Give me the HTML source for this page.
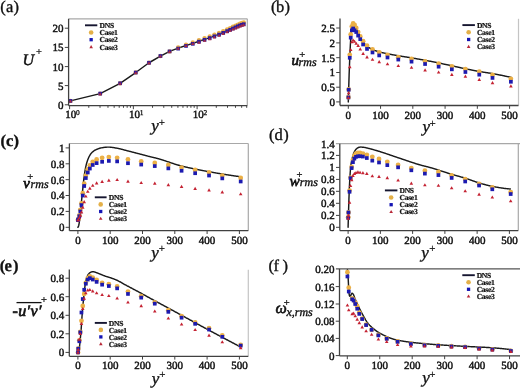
<!DOCTYPE html>
<html><head><meta charset="utf-8"><style>html,body{margin:0;padding:0;background:#fff;}svg{display:block;}</style></head><body>
<svg text-rendering="geometricPrecision" width="520" height="388" viewBox="0 0 520 388" font-family="&apos;Liberation Serif&apos;,&apos;Times New Roman&apos;,serif">
<rect width="520" height="388" fill="#fff"/>
<line x1="68.60" y1="18.80" x2="247.30" y2="18.80" stroke="#a8a8a8" stroke-width="1.2"/>
<line x1="247.30" y1="18.80" x2="247.30" y2="105.60" stroke="#a8a8a8" stroke-width="1.2"/>
<line x1="69.60" y1="105.60" x2="69.60" y2="109.20" stroke="#404040" stroke-width="1.0"/>
<line x1="88.79" y1="105.60" x2="88.79" y2="107.80" stroke="#404040" stroke-width="1.0"/>
<line x1="100.02" y1="105.60" x2="100.02" y2="107.80" stroke="#404040" stroke-width="1.0"/>
<line x1="107.98" y1="105.60" x2="107.98" y2="107.80" stroke="#404040" stroke-width="1.0"/>
<line x1="114.16" y1="105.60" x2="114.16" y2="107.80" stroke="#404040" stroke-width="1.0"/>
<line x1="119.21" y1="105.60" x2="119.21" y2="107.80" stroke="#404040" stroke-width="1.0"/>
<line x1="123.48" y1="105.60" x2="123.48" y2="107.80" stroke="#404040" stroke-width="1.0"/>
<line x1="127.17" y1="105.60" x2="127.17" y2="107.80" stroke="#404040" stroke-width="1.0"/>
<line x1="130.43" y1="105.60" x2="130.43" y2="107.80" stroke="#404040" stroke-width="1.0"/>
<line x1="133.35" y1="105.60" x2="133.35" y2="109.20" stroke="#404040" stroke-width="1.0"/>
<line x1="152.54" y1="105.60" x2="152.54" y2="107.80" stroke="#404040" stroke-width="1.0"/>
<line x1="163.77" y1="105.60" x2="163.77" y2="107.80" stroke="#404040" stroke-width="1.0"/>
<line x1="171.73" y1="105.60" x2="171.73" y2="107.80" stroke="#404040" stroke-width="1.0"/>
<line x1="177.91" y1="105.60" x2="177.91" y2="107.80" stroke="#404040" stroke-width="1.0"/>
<line x1="182.96" y1="105.60" x2="182.96" y2="107.80" stroke="#404040" stroke-width="1.0"/>
<line x1="187.23" y1="105.60" x2="187.23" y2="107.80" stroke="#404040" stroke-width="1.0"/>
<line x1="190.92" y1="105.60" x2="190.92" y2="107.80" stroke="#404040" stroke-width="1.0"/>
<line x1="194.18" y1="105.60" x2="194.18" y2="107.80" stroke="#404040" stroke-width="1.0"/>
<line x1="197.10" y1="105.60" x2="197.10" y2="109.20" stroke="#404040" stroke-width="1.0"/>
<line x1="216.29" y1="105.60" x2="216.29" y2="107.80" stroke="#404040" stroke-width="1.0"/>
<line x1="227.52" y1="105.60" x2="227.52" y2="107.80" stroke="#404040" stroke-width="1.0"/>
<line x1="235.48" y1="105.60" x2="235.48" y2="107.80" stroke="#404040" stroke-width="1.0"/>
<line x1="241.66" y1="105.60" x2="241.66" y2="107.80" stroke="#404040" stroke-width="1.0"/>
<line x1="246.71" y1="105.60" x2="246.71" y2="107.80" stroke="#404040" stroke-width="1.0"/>
<text x="70.80" y="118.40" font-size="11" text-anchor="middle" fill="#111" stroke="#111" stroke-width="0.45">10</text>
<text x="76.10" y="115.00" font-size="7.4" fill="#111" stroke="#111" stroke-width="0.3">0</text>
<text x="134.55" y="118.40" font-size="11" text-anchor="middle" fill="#111" stroke="#111" stroke-width="0.45">10</text>
<text x="139.85" y="115.00" font-size="7.4" fill="#111" stroke="#111" stroke-width="0.3">1</text>
<text x="198.30" y="118.40" font-size="11" text-anchor="middle" fill="#111" stroke="#111" stroke-width="0.45">10</text>
<text x="203.60" y="115.00" font-size="7.4" fill="#111" stroke="#111" stroke-width="0.3">2</text>
<line x1="64.80" y1="104.80" x2="68.60" y2="104.80" stroke="#404040" stroke-width="1.0"/>
<text x="63.60" y="108.70" font-size="11" text-anchor="end" fill="#111" stroke="#111" stroke-width="0.45">0</text>
<line x1="64.80" y1="85.60" x2="68.60" y2="85.60" stroke="#404040" stroke-width="1.0"/>
<text x="63.60" y="89.50" font-size="11" text-anchor="end" fill="#111" stroke="#111" stroke-width="0.45">5</text>
<line x1="64.80" y1="66.60" x2="68.60" y2="66.60" stroke="#404040" stroke-width="1.0"/>
<text x="63.60" y="70.50" font-size="11" text-anchor="end" fill="#111" stroke="#111" stroke-width="0.45">10</text>
<line x1="64.80" y1="47.40" x2="68.60" y2="47.40" stroke="#404040" stroke-width="1.0"/>
<text x="63.60" y="51.30" font-size="11" text-anchor="end" fill="#111" stroke="#111" stroke-width="0.45">15</text>
<line x1="64.80" y1="28.20" x2="68.60" y2="28.20" stroke="#404040" stroke-width="1.0"/>
<text x="63.60" y="32.10" font-size="11" text-anchor="end" fill="#111" stroke="#111" stroke-width="0.45">20</text>
<polyline points="70.42,100.91 100.20,93.59 120.11,83.28 135.74,72.54 149.00,62.75 160.44,56.03 169.57,51.42 178.18,48.16 186.01,45.47 192.80,43.36 198.97,41.25 204.58,39.33 209.76,37.60 214.43,35.87 219.06,34.14 223.23,32.42 227.14,30.69 230.98,28.94 234.78,27.19 238.12,25.72 241.10,24.54 243.79,23.76" fill="none" stroke="#1a1a1a" stroke-width="1.45" stroke-linejoin="round" stroke-linecap="round"/>
<circle cx="70.42" cy="100.91" r="2.2" fill="#EBB046"/>
<circle cx="100.20" cy="93.59" r="2.2" fill="#EBB046"/>
<circle cx="120.11" cy="83.28" r="2.2" fill="#EBB046"/>
<circle cx="135.74" cy="72.54" r="2.2" fill="#EBB046"/>
<circle cx="149.00" cy="62.75" r="2.2" fill="#EBB046"/>
<circle cx="160.44" cy="56.03" r="2.2" fill="#EBB046"/>
<circle cx="169.57" cy="51.42" r="2.2" fill="#EBB046"/>
<circle cx="178.18" cy="47.50" r="2.2" fill="#EBB046"/>
<circle cx="186.01" cy="44.69" r="2.2" fill="#EBB046"/>
<circle cx="192.80" cy="42.43" r="2.2" fill="#EBB046"/>
<circle cx="198.97" cy="40.16" r="2.2" fill="#EBB046"/>
<circle cx="204.58" cy="38.10" r="2.2" fill="#EBB046"/>
<circle cx="209.76" cy="36.37" r="2.2" fill="#EBB046"/>
<circle cx="214.43" cy="34.64" r="2.2" fill="#EBB046"/>
<circle cx="219.06" cy="32.92" r="2.2" fill="#EBB046"/>
<circle cx="223.23" cy="31.19" r="2.2" fill="#EBB046"/>
<circle cx="227.14" cy="29.46" r="2.2" fill="#EBB046"/>
<circle cx="230.16" cy="28.09" r="2.2" fill="#EBB046"/>
<circle cx="232.95" cy="26.81" r="2.2" fill="#EBB046"/>
<circle cx="235.48" cy="25.64" r="2.2" fill="#EBB046"/>
<circle cx="237.80" cy="24.62" r="2.2" fill="#EBB046"/>
<circle cx="239.95" cy="23.73" r="2.2" fill="#EBB046"/>
<circle cx="241.93" cy="23.05" r="2.2" fill="#EBB046"/>
<circle cx="243.79" cy="22.53" r="2.2" fill="#EBB046"/>
<rect x="68.57" y="99.06" width="3.7" height="3.7" fill="#2a1a9e"/>
<rect x="98.35" y="91.74" width="3.7" height="3.7" fill="#2a1a9e"/>
<rect x="118.26" y="81.43" width="3.7" height="3.7" fill="#2a1a9e"/>
<rect x="133.89" y="70.69" width="3.7" height="3.7" fill="#2a1a9e"/>
<rect x="147.15" y="60.90" width="3.7" height="3.7" fill="#2a1a9e"/>
<rect x="158.59" y="54.18" width="3.7" height="3.7" fill="#2a1a9e"/>
<rect x="167.72" y="49.57" width="3.7" height="3.7" fill="#2a1a9e"/>
<rect x="176.33" y="46.77" width="3.7" height="3.7" fill="#2a1a9e"/>
<rect x="184.16" y="44.08" width="3.7" height="3.7" fill="#2a1a9e"/>
<rect x="190.95" y="41.97" width="3.7" height="3.7" fill="#2a1a9e"/>
<rect x="197.12" y="39.86" width="3.7" height="3.7" fill="#2a1a9e"/>
<rect x="202.73" y="37.94" width="3.7" height="3.7" fill="#2a1a9e"/>
<rect x="207.91" y="36.21" width="3.7" height="3.7" fill="#2a1a9e"/>
<rect x="212.58" y="34.48" width="3.7" height="3.7" fill="#2a1a9e"/>
<rect x="217.21" y="32.75" width="3.7" height="3.7" fill="#2a1a9e"/>
<rect x="221.38" y="31.03" width="3.7" height="3.7" fill="#2a1a9e"/>
<rect x="225.29" y="29.30" width="3.7" height="3.7" fill="#2a1a9e"/>
<rect x="228.31" y="27.93" width="3.7" height="3.7" fill="#2a1a9e"/>
<rect x="231.10" y="26.65" width="3.7" height="3.7" fill="#2a1a9e"/>
<rect x="233.63" y="25.48" width="3.7" height="3.7" fill="#2a1a9e"/>
<rect x="235.95" y="24.46" width="3.7" height="3.7" fill="#2a1a9e"/>
<rect x="238.10" y="23.57" width="3.7" height="3.7" fill="#2a1a9e"/>
<rect x="240.08" y="22.89" width="3.7" height="3.7" fill="#2a1a9e"/>
<rect x="241.94" y="22.37" width="3.7" height="3.7" fill="#2a1a9e"/>
<polygon points="70.42,99.52 72.12,102.48 68.72,102.48" fill="#a82a40"/>
<polygon points="100.20,92.20 101.90,95.16 98.50,95.16" fill="#a82a40"/>
<polygon points="120.11,81.89 121.81,84.85 118.41,84.85" fill="#a82a40"/>
<polygon points="135.74,71.15 137.44,74.11 134.04,74.11" fill="#a82a40"/>
<polygon points="149.00,61.36 150.70,64.32 147.30,64.32" fill="#a82a40"/>
<polygon points="160.44,54.64 162.14,57.60 158.74,57.60" fill="#a82a40"/>
<polygon points="169.57,50.03 171.27,52.99 167.87,52.99" fill="#a82a40"/>
<polygon points="178.18,46.77 179.88,49.73 176.48,49.73" fill="#a82a40"/>
<polygon points="186.01,44.08 187.71,47.04 184.31,47.04" fill="#a82a40"/>
<polygon points="192.80,41.97 194.50,44.93 191.10,44.93" fill="#a82a40"/>
<polygon points="198.97,40.82 200.67,43.78 197.27,43.78" fill="#a82a40"/>
<polygon points="204.58,38.90 206.28,41.86 202.88,41.86" fill="#a82a40"/>
<polygon points="209.76,37.17 211.46,40.13 208.06,40.13" fill="#a82a40"/>
<polygon points="214.43,35.44 216.13,38.40 212.73,38.40" fill="#a82a40"/>
<polygon points="219.06,33.71 220.76,36.67 217.36,36.67" fill="#a82a40"/>
<polygon points="223.23,31.99 224.93,34.94 221.53,34.94" fill="#a82a40"/>
<polygon points="227.14,30.26 228.84,33.22 225.44,33.22" fill="#a82a40"/>
<polygon points="230.16,28.89 231.86,31.85 228.46,31.85" fill="#a82a40"/>
<polygon points="232.95,27.61 234.65,30.57 231.25,30.57" fill="#a82a40"/>
<polygon points="235.48,26.44 237.18,29.40 233.78,29.40" fill="#a82a40"/>
<polygon points="237.80,25.42 239.50,28.38 236.10,28.38" fill="#a82a40"/>
<polygon points="239.95,24.53 241.65,27.48 238.25,27.48" fill="#a82a40"/>
<polygon points="241.93,23.85 243.63,26.81 240.23,26.81" fill="#a82a40"/>
<polygon points="243.79,23.33 245.49,26.29 242.09,26.29" fill="#a82a40"/>
<line x1="68.60" y1="18.80" x2="68.60" y2="105.60" stroke="#404040" stroke-width="1.3"/>
<line x1="68.60" y1="105.60" x2="247.30" y2="105.60" stroke="#404040" stroke-width="1.3"/>
<line x1="85.00" y1="25.30" x2="97.30" y2="25.30" stroke="#161630" stroke-width="1.9"/>
<circle cx="91.15" cy="32.50" r="2.3" fill="#E4B048"/>
<rect x="89.50" y="38.05" width="3.3" height="3.3" fill="#1414B4"/>
<polygon points="91.15,45.02 92.95,48.15 89.35,48.15" fill="#B82838"/>
<text x="99.60" y="27.90" font-size="7.6" font-weight="bold" letter-spacing="-0.3" fill="#111" stroke="#111" stroke-width="0.2">DNS</text>
<text x="99.60" y="35.10" font-size="7.6" font-weight="bold" letter-spacing="-0.3" fill="#111" stroke="#111" stroke-width="0.2">Case1</text>
<text x="99.60" y="42.30" font-size="7.6" font-weight="bold" letter-spacing="-0.3" fill="#111" stroke="#111" stroke-width="0.2">Case2</text>
<text x="99.60" y="49.50" font-size="7.6" font-weight="bold" letter-spacing="-0.3" fill="#111" stroke="#111" stroke-width="0.2">Case3</text>
<text x="0.30" y="12.00" font-size="16.5" fill="#111" stroke="#111" stroke-width="0.35">(</text>
<text x="5.90" y="12.00" font-size="16.5" fill="#111" stroke="#111" stroke-width="0.35">a</text>
<text x="13.60" y="12.00" font-size="16.5" fill="#111" stroke="#111" stroke-width="0.35">)</text>
<text x="22.40" y="65.20" font-size="16" font-style="italic" fill="#111" stroke="#111" stroke-width="0.45">U</text>
<text x="35.90" y="54.60" font-size="10.5" fill="#111" stroke="#111" stroke-width="0.25">+</text>
<text x="151.30" y="131.30" font-size="17" font-style="italic" fill="#111" stroke="#111" stroke-width="0.35">y</text>
<text x="158.65" y="126.20" font-size="11" fill="#111" stroke="#111" stroke-width="0.25">+</text>
<line x1="518.50" y1="18.80" x2="518.50" y2="105.50" stroke="#c4c4c4" stroke-width="1.2"/>
<line x1="348.30" y1="105.50" x2="348.30" y2="108.80" stroke="#404040" stroke-width="1.0"/>
<text x="348.30" y="118.90" font-size="11" text-anchor="middle" fill="#111" stroke="#111" stroke-width="0.45">0</text>
<line x1="380.56" y1="105.50" x2="380.56" y2="108.80" stroke="#404040" stroke-width="1.0"/>
<text x="380.56" y="118.90" font-size="11" text-anchor="middle" fill="#111" stroke="#111" stroke-width="0.45">100</text>
<line x1="412.82" y1="105.50" x2="412.82" y2="108.80" stroke="#404040" stroke-width="1.0"/>
<text x="412.82" y="118.90" font-size="11" text-anchor="middle" fill="#111" stroke="#111" stroke-width="0.45">200</text>
<line x1="445.08" y1="105.50" x2="445.08" y2="108.80" stroke="#404040" stroke-width="1.0"/>
<text x="445.08" y="118.90" font-size="11" text-anchor="middle" fill="#111" stroke="#111" stroke-width="0.45">300</text>
<line x1="477.34" y1="105.50" x2="477.34" y2="108.80" stroke="#404040" stroke-width="1.0"/>
<text x="477.34" y="118.90" font-size="11" text-anchor="middle" fill="#111" stroke="#111" stroke-width="0.45">400</text>
<line x1="509.60" y1="105.50" x2="509.60" y2="108.80" stroke="#404040" stroke-width="1.0"/>
<text x="509.60" y="118.90" font-size="11" text-anchor="middle" fill="#111" stroke="#111" stroke-width="0.45">500</text>
<line x1="336.20" y1="101.90" x2="340.00" y2="101.90" stroke="#404040" stroke-width="1.0"/>
<text x="335.00" y="105.80" font-size="11" text-anchor="end" fill="#111" stroke="#111" stroke-width="0.45">0</text>
<line x1="336.20" y1="87.20" x2="340.00" y2="87.20" stroke="#404040" stroke-width="1.0"/>
<text x="335.00" y="91.10" font-size="11" text-anchor="end" fill="#111" stroke="#111" stroke-width="0.45">0.5</text>
<line x1="336.20" y1="72.50" x2="340.00" y2="72.50" stroke="#404040" stroke-width="1.0"/>
<text x="335.00" y="76.40" font-size="11" text-anchor="end" fill="#111" stroke="#111" stroke-width="0.45">1</text>
<line x1="336.20" y1="57.70" x2="340.00" y2="57.70" stroke="#404040" stroke-width="1.0"/>
<text x="335.00" y="61.60" font-size="11" text-anchor="end" fill="#111" stroke="#111" stroke-width="0.45">1.5</text>
<line x1="336.20" y1="42.90" x2="340.00" y2="42.90" stroke="#404040" stroke-width="1.0"/>
<text x="335.00" y="46.80" font-size="11" text-anchor="end" fill="#111" stroke="#111" stroke-width="0.45">2</text>
<line x1="336.20" y1="28.00" x2="340.00" y2="28.00" stroke="#404040" stroke-width="1.0"/>
<text x="335.00" y="31.90" font-size="11" text-anchor="end" fill="#111" stroke="#111" stroke-width="0.45">2.5</text>
<polyline points="348.30,101.90 348.71,88.17 349.11,75.31 349.52,64.23 349.93,54.15 350.34,45.19 350.74,38.39 351.15,33.03 351.56,29.12 351.97,26.46 352.37,24.74 352.78,23.37 353.19,22.87 353.60,23.14 354.00,23.63 354.41,24.20 354.82,24.95 355.23,25.78 355.63,26.61 356.04,27.47 356.45,28.38 356.86,29.32 357.26,30.30 357.67,31.37 358.08,32.45 358.49,33.49 358.89,34.45 359.30,35.38 359.71,36.27 360.12,37.11 360.52,37.90 360.93,38.65 361.34,39.37 361.75,40.06 362.15,40.72 362.56,41.33 362.97,41.89 363.38,42.40 363.78,42.88 364.19,43.34 364.60,43.77 365.01,44.18 365.41,44.58 365.82,44.95 366.23,45.31 366.64,45.65 367.04,45.98 367.45,46.30 367.86,46.62 368.27,46.92 368.67,47.22 369.08,47.51 369.49,47.79 369.90,48.06 370.30,48.32 370.71,48.56 371.12,48.80 371.53,49.03 371.93,49.24 372.34,49.44 372.75,49.62 373.16,49.80 373.56,49.97 373.97,50.14 374.38,50.30 374.79,50.46 375.19,50.60 375.60,50.75 376.01,50.89 376.42,51.02 376.82,51.15 377.23,51.28 377.64,51.41 378.05,51.53 378.45,51.65 378.86,51.76 379.27,51.88 379.68,51.99 380.08,52.10 380.49,52.20 380.90,52.31 381.31,52.41 381.71,52.51 382.12,52.60 382.53,52.70 382.94,52.79 383.34,52.88 383.75,52.97 384.16,53.06 384.57,53.14 384.97,53.23 385.38,53.32 385.79,53.40 386.20,53.48 386.60,53.57 387.01,53.65 387.42,53.74 387.83,53.82 388.23,53.90 388.64,53.98 389.05,54.06 389.46,54.14 389.86,54.22 390.27,54.29 390.68,54.37 391.09,54.45 391.49,54.52 391.90,54.60 392.31,54.67 392.72,54.74 393.12,54.82 393.53,54.89 393.94,54.96 394.35,55.03 394.75,55.11 395.16,55.18 395.57,55.25 395.98,55.32 396.38,55.39 396.79,55.46 397.20,55.53 397.61,55.60 398.01,55.67 398.42,55.74 398.83,55.81 399.24,55.88 399.64,55.95 400.05,56.02 400.46,56.09 400.87,56.16 401.27,56.22 401.68,56.29 402.09,56.36 402.50,56.42 402.90,56.49 403.31,56.55 403.72,56.62 404.13,56.68 404.53,56.75 404.94,56.81 405.35,56.88 405.76,56.94 406.16,57.01 406.57,57.07 406.98,57.14 407.39,57.20 407.79,57.27 408.20,57.33 408.61,57.40 409.02,57.46 409.42,57.53 409.83,57.59 410.24,57.66 410.65,57.73 411.05,57.79 411.46,57.86 411.87,57.93 412.28,58.00 412.68,58.07 413.09,58.14 413.50,58.21 413.91,58.28 414.31,58.35 414.72,58.42 415.13,58.49 415.54,58.56 415.94,58.63 416.35,58.71 416.76,58.78 417.17,58.85 417.57,58.92 417.98,58.99 418.39,59.07 418.80,59.14 419.20,59.21 419.61,59.28 420.02,59.36 420.43,59.43 420.83,59.50 421.24,59.58 421.65,59.65 422.06,59.73 422.46,59.80 422.87,59.87 423.28,59.95 423.69,60.02 424.09,60.10 424.50,60.18 424.91,60.25 425.32,60.33 425.72,60.40 426.13,60.48 426.54,60.56 426.95,60.63 427.35,60.71 427.76,60.79 428.17,60.86 428.58,60.94 428.98,61.02 429.39,61.10 429.80,61.18 430.21,61.26 430.61,61.33 431.02,61.41 431.43,61.49 431.84,61.57 432.24,61.65 432.65,61.74 433.06,61.82 433.47,61.90 433.87,61.98 434.28,62.06 434.69,62.14 435.10,62.23 435.50,62.31 435.91,62.39 436.32,62.48 436.73,62.56 437.13,62.64 437.54,62.73 437.95,62.81 438.36,62.90 438.76,62.98 439.17,63.07 439.58,63.15 439.99,63.24 440.39,63.32 440.80,63.41 441.21,63.49 441.62,63.58 442.02,63.66 442.43,63.75 442.84,63.84 443.25,63.92 443.65,64.01 444.06,64.09 444.47,64.18 444.88,64.26 445.28,64.35 445.69,64.44 446.10,64.52 446.51,64.61 446.91,64.70 447.32,64.79 447.73,64.88 448.14,64.96 448.54,65.05 448.95,65.14 449.36,65.23 449.77,65.32 450.17,65.41 450.58,65.50 450.99,65.59 451.40,65.68 451.80,65.77 452.21,65.86 452.62,65.95 453.03,66.04 453.43,66.13 453.84,66.23 454.25,66.32 454.66,66.41 455.06,66.50 455.47,66.59 455.88,66.68 456.29,66.77 456.69,66.86 457.10,66.95 457.51,67.04 457.92,67.13 458.32,67.22 458.73,67.31 459.14,67.40 459.55,67.49 459.95,67.58 460.36,67.67 460.77,67.76 461.18,67.85 461.58,67.94 461.99,68.03 462.40,68.11 462.81,68.20 463.21,68.29 463.62,68.37 464.03,68.46 464.44,68.55 464.84,68.63 465.25,68.72 465.66,68.80 466.07,68.89 466.47,68.97 466.88,69.05 467.29,69.14 467.70,69.22 468.10,69.31 468.51,69.39 468.92,69.47 469.33,69.56 469.73,69.64 470.14,69.72 470.55,69.80 470.96,69.89 471.36,69.97 471.77,70.05 472.18,70.13 472.59,70.21 472.99,70.29 473.40,70.37 473.81,70.45 474.22,70.53 474.62,70.61 475.03,70.69 475.44,70.76 475.85,70.84 476.25,70.92 476.66,70.99 477.07,71.07 477.48,71.14 477.88,71.21 478.29,71.29 478.70,71.36 479.11,71.43 479.51,71.50 479.92,71.57 480.33,71.63 480.74,71.70 481.14,71.77 481.55,71.83 481.96,71.90 482.37,71.97 482.77,72.03 483.18,72.10 483.59,72.16 484.00,72.22 484.40,72.29 484.81,72.35 485.22,72.42 485.63,72.48 486.03,72.54 486.44,72.61 486.85,72.67 487.26,72.74 487.66,72.80 488.07,72.87 488.48,72.93 488.89,73.00 489.29,73.06 489.70,73.13 490.11,73.20 490.52,73.27 490.92,73.33 491.33,73.40 491.74,73.47 492.15,73.54 492.55,73.62 492.96,73.69 493.37,73.76 493.78,73.84 494.18,73.91 494.59,73.99 495.00,74.06 495.41,74.14 495.81,74.21 496.22,74.29 496.63,74.37 497.04,74.45 497.44,74.52 497.85,74.60 498.26,74.68 498.67,74.76 499.07,74.84 499.48,74.92 499.89,75.00 500.30,75.08 500.70,75.17 501.11,75.25 501.52,75.33 501.93,75.41 502.33,75.50 502.74,75.58 503.15,75.66 503.56,75.75 503.96,75.83 504.37,75.92 504.78,76.00 505.19,76.09 505.59,76.18 506.00,76.26 506.41,76.35 506.82,76.44 507.22,76.53 507.63,76.61 508.04,76.70 508.45,76.79 508.85,76.88 509.26,76.97 509.67,77.06 510.08,77.15 510.48,77.24 510.89,77.33" fill="none" stroke="#1a1a1a" stroke-width="1.45" stroke-linejoin="round" stroke-linecap="round"/>
<circle cx="348.43" cy="97.16" r="2.4" fill="#EBB046"/>
<circle cx="348.69" cy="89.47" r="2.4" fill="#EBB046"/>
<circle cx="349.75" cy="54.84" r="2.4" fill="#EBB046"/>
<circle cx="350.72" cy="34.41" r="2.4" fill="#EBB046"/>
<circle cx="351.85" cy="26.42" r="2.4" fill="#EBB046"/>
<circle cx="353.14" cy="23.46" r="2.4" fill="#EBB046"/>
<circle cx="354.59" cy="24.94" r="2.4" fill="#EBB046"/>
<circle cx="356.20" cy="27.90" r="2.4" fill="#EBB046"/>
<circle cx="358.14" cy="32.04" r="2.4" fill="#EBB046"/>
<circle cx="360.24" cy="36.48" r="2.4" fill="#EBB046"/>
<circle cx="363.11" cy="41.22" r="2.4" fill="#EBB046"/>
<circle cx="367.01" cy="45.66" r="2.4" fill="#EBB046"/>
<circle cx="372.50" cy="49.51" r="2.4" fill="#EBB046"/>
<circle cx="379.21" cy="52.47" r="2.4" fill="#EBB046"/>
<circle cx="387.50" cy="54.84" r="2.4" fill="#EBB046"/>
<circle cx="398.30" cy="57.20" r="2.4" fill="#EBB046"/>
<circle cx="411.53" cy="58.98" r="2.4" fill="#EBB046"/>
<circle cx="425.08" cy="61.35" r="2.4" fill="#EBB046"/>
<circle cx="438.63" cy="63.72" r="2.4" fill="#EBB046"/>
<circle cx="451.85" cy="66.38" r="2.4" fill="#EBB046"/>
<circle cx="465.40" cy="69.04" r="2.4" fill="#EBB046"/>
<circle cx="479.28" cy="71.71" r="2.4" fill="#EBB046"/>
<circle cx="492.50" cy="74.96" r="2.4" fill="#EBB046"/>
<circle cx="510.89" cy="78.81" r="2.4" fill="#EBB046"/>
<rect x="346.58" y="95.61" width="3.7" height="3.7" fill="#1C1AB0"/>
<rect x="346.84" y="87.91" width="3.7" height="3.7" fill="#1C1AB0"/>
<rect x="347.90" y="55.95" width="3.7" height="3.7" fill="#1C1AB0"/>
<rect x="348.87" y="35.82" width="3.7" height="3.7" fill="#1C1AB0"/>
<rect x="350.00" y="28.42" width="3.7" height="3.7" fill="#1C1AB0"/>
<rect x="351.29" y="26.64" width="3.7" height="3.7" fill="#1C1AB0"/>
<rect x="352.74" y="28.42" width="3.7" height="3.7" fill="#1C1AB0"/>
<rect x="354.35" y="30.19" width="3.7" height="3.7" fill="#1C1AB0"/>
<rect x="356.29" y="33.75" width="3.7" height="3.7" fill="#1C1AB0"/>
<rect x="358.39" y="37.30" width="3.7" height="3.7" fill="#1C1AB0"/>
<rect x="361.26" y="42.63" width="3.7" height="3.7" fill="#1C1AB0"/>
<rect x="365.16" y="47.07" width="3.7" height="3.7" fill="#1C1AB0"/>
<rect x="370.64" y="50.62" width="3.7" height="3.7" fill="#1C1AB0"/>
<rect x="377.36" y="53.58" width="3.7" height="3.7" fill="#1C1AB0"/>
<rect x="385.65" y="55.65" width="3.7" height="3.7" fill="#1C1AB0"/>
<rect x="396.45" y="57.72" width="3.7" height="3.7" fill="#1C1AB0"/>
<rect x="409.68" y="59.79" width="3.7" height="3.7" fill="#1C1AB0"/>
<rect x="423.23" y="62.16" width="3.7" height="3.7" fill="#1C1AB0"/>
<rect x="436.78" y="64.83" width="3.7" height="3.7" fill="#1C1AB0"/>
<rect x="450.00" y="67.49" width="3.7" height="3.7" fill="#1C1AB0"/>
<rect x="463.55" y="70.15" width="3.7" height="3.7" fill="#1C1AB0"/>
<rect x="477.43" y="72.82" width="3.7" height="3.7" fill="#1C1AB0"/>
<rect x="490.65" y="76.07" width="3.7" height="3.7" fill="#1C1AB0"/>
<rect x="509.04" y="79.92" width="3.7" height="3.7" fill="#1C1AB0"/>
<polygon points="348.43,95.88 350.23,99.01 346.63,99.01" fill="#C42232"/>
<polygon points="348.69,91.14 350.49,94.27 346.89,94.27" fill="#C42232"/>
<polygon points="349.75,65.09 351.55,68.22 347.95,68.22" fill="#C42232"/>
<polygon points="350.72,47.92 352.52,51.06 348.92,51.06" fill="#C42232"/>
<polygon points="351.85,40.23 353.65,43.36 350.05,43.36" fill="#C42232"/>
<polygon points="353.14,38.45 354.94,41.58 351.34,41.58" fill="#C42232"/>
<polygon points="354.59,39.64 356.39,42.77 352.79,42.77" fill="#C42232"/>
<polygon points="356.20,41.71 358.00,44.84 354.40,44.84" fill="#C42232"/>
<polygon points="358.14,43.78 359.94,46.91 356.34,46.91" fill="#C42232"/>
<polygon points="360.24,47.33 362.04,50.46 358.44,50.46" fill="#C42232"/>
<polygon points="363.11,51.77 364.91,54.90 361.31,54.90" fill="#C42232"/>
<polygon points="367.01,55.32 368.81,58.46 365.21,58.46" fill="#C42232"/>
<polygon points="372.50,57.69 374.30,60.82 370.69,60.82" fill="#C42232"/>
<polygon points="379.21,60.06 381.01,63.19 377.41,63.19" fill="#C42232"/>
<polygon points="387.50,62.13 389.30,65.26 385.70,65.26" fill="#C42232"/>
<polygon points="398.30,63.91 400.10,67.04 396.50,67.04" fill="#C42232"/>
<polygon points="411.53,65.68 413.33,68.82 409.73,68.82" fill="#C42232"/>
<polygon points="425.08,68.35 426.88,71.48 423.28,71.48" fill="#C42232"/>
<polygon points="438.63,70.42 440.43,73.55 436.83,73.55" fill="#C42232"/>
<polygon points="451.85,72.79 453.65,75.92 450.05,75.92" fill="#C42232"/>
<polygon points="465.40,74.56 467.20,77.70 463.60,77.70" fill="#C42232"/>
<polygon points="479.28,77.82 481.08,80.95 477.48,80.95" fill="#C42232"/>
<polygon points="492.50,81.08 494.30,84.21 490.70,84.21" fill="#C42232"/>
<polygon points="510.89,84.33 512.69,87.46 509.09,87.46" fill="#C42232"/>
<line x1="340.00" y1="18.60" x2="340.00" y2="105.50" stroke="#404040" stroke-width="1.3"/>
<line x1="340.00" y1="105.50" x2="518.50" y2="105.50" stroke="#404040" stroke-width="1.3"/>
<line x1="462.40" y1="25.10" x2="474.90" y2="25.10" stroke="#161630" stroke-width="1.9"/>
<circle cx="468.65" cy="32.30" r="2.3" fill="#E4B048"/>
<rect x="467.00" y="37.85" width="3.3" height="3.3" fill="#1414B4"/>
<polygon points="468.65,44.82 470.45,47.95 466.85,47.95" fill="#B82838"/>
<text x="476.90" y="27.70" font-size="7.6" font-weight="bold" letter-spacing="-0.3" fill="#111" stroke="#111" stroke-width="0.2">DNS</text>
<text x="476.90" y="34.90" font-size="7.6" font-weight="bold" letter-spacing="-0.3" fill="#111" stroke="#111" stroke-width="0.2">Case1</text>
<text x="476.90" y="42.10" font-size="7.6" font-weight="bold" letter-spacing="-0.3" fill="#111" stroke="#111" stroke-width="0.2">Case2</text>
<text x="476.90" y="49.30" font-size="7.6" font-weight="bold" letter-spacing="-0.3" fill="#111" stroke="#111" stroke-width="0.2">Case3</text>
<text x="270.90" y="11.50" font-size="16.5" fill="#111" stroke="#111" stroke-width="0.35">(</text>
<text x="275.90" y="11.50" font-size="16.5" fill="#111" stroke="#111" stroke-width="0.35">b</text>
<text x="284.40" y="11.50" font-size="16.5" fill="#111" stroke="#111" stroke-width="0.35">)</text>
<text x="291.50" y="65.40" font-size="15" font-style="italic" fill="#111" stroke="#111" stroke-width="0.7">u</text>
<text x="298.60" y="66.20" font-size="12" font-style="italic" fill="#111" stroke="#111" stroke-width="0.35">rms</text>
<text x="299.20" y="58.20" font-size="10.5" fill="#111" stroke="#111" stroke-width="0.3">+</text>
<text x="422.50" y="132.00" font-size="17" font-style="italic" fill="#111" stroke="#111" stroke-width="0.35">y</text>
<text x="429.45" y="127.00" font-size="11" fill="#111" stroke="#111" stroke-width="0.25">+</text>
<line x1="69.40" y1="143.50" x2="248.30" y2="143.50" stroke="#a8a8a8" stroke-width="1.2"/>
<line x1="248.30" y1="143.50" x2="248.30" y2="230.70" stroke="#a8a8a8" stroke-width="1.2"/>
<line x1="77.90" y1="230.70" x2="77.90" y2="234.00" stroke="#404040" stroke-width="1.0"/>
<text x="77.90" y="243.60" font-size="11" text-anchor="middle" fill="#111" stroke="#111" stroke-width="0.45">0</text>
<line x1="110.20" y1="230.70" x2="110.20" y2="234.00" stroke="#404040" stroke-width="1.0"/>
<text x="110.20" y="243.60" font-size="11" text-anchor="middle" fill="#111" stroke="#111" stroke-width="0.45">100</text>
<line x1="142.50" y1="230.70" x2="142.50" y2="234.00" stroke="#404040" stroke-width="1.0"/>
<text x="142.50" y="243.60" font-size="11" text-anchor="middle" fill="#111" stroke="#111" stroke-width="0.45">200</text>
<line x1="174.80" y1="230.70" x2="174.80" y2="234.00" stroke="#404040" stroke-width="1.0"/>
<text x="174.80" y="243.60" font-size="11" text-anchor="middle" fill="#111" stroke="#111" stroke-width="0.45">300</text>
<line x1="207.10" y1="230.70" x2="207.10" y2="234.00" stroke="#404040" stroke-width="1.0"/>
<text x="207.10" y="243.60" font-size="11" text-anchor="middle" fill="#111" stroke="#111" stroke-width="0.45">400</text>
<line x1="239.40" y1="230.70" x2="239.40" y2="234.00" stroke="#404040" stroke-width="1.0"/>
<text x="239.40" y="243.60" font-size="11" text-anchor="middle" fill="#111" stroke="#111" stroke-width="0.45">500</text>
<line x1="65.60" y1="227.30" x2="69.40" y2="227.30" stroke="#404040" stroke-width="1.0"/>
<text x="64.40" y="231.20" font-size="11" text-anchor="end" fill="#111" stroke="#111" stroke-width="0.45">0</text>
<line x1="65.60" y1="211.40" x2="69.40" y2="211.40" stroke="#404040" stroke-width="1.0"/>
<text x="64.40" y="215.30" font-size="11" text-anchor="end" fill="#111" stroke="#111" stroke-width="0.45">0.2</text>
<line x1="65.60" y1="195.50" x2="69.40" y2="195.50" stroke="#404040" stroke-width="1.0"/>
<text x="64.40" y="199.40" font-size="11" text-anchor="end" fill="#111" stroke="#111" stroke-width="0.45">0.4</text>
<line x1="65.60" y1="179.70" x2="69.40" y2="179.70" stroke="#404040" stroke-width="1.0"/>
<text x="64.40" y="183.60" font-size="11" text-anchor="end" fill="#111" stroke="#111" stroke-width="0.45">0.6</text>
<line x1="65.60" y1="163.80" x2="69.40" y2="163.80" stroke="#404040" stroke-width="1.0"/>
<text x="64.40" y="167.70" font-size="11" text-anchor="end" fill="#111" stroke="#111" stroke-width="0.45">0.8</text>
<line x1="65.60" y1="147.90" x2="69.40" y2="147.90" stroke="#404040" stroke-width="1.0"/>
<text x="64.40" y="151.80" font-size="11" text-anchor="end" fill="#111" stroke="#111" stroke-width="0.45">1</text>
<polyline points="77.90,227.30 78.31,226.76 78.71,225.48 79.12,223.61 79.53,220.44 79.94,216.93 80.34,213.08 80.75,208.92 81.16,204.80 81.56,200.74 81.97,196.66 82.38,192.65 82.79,188.81 83.19,184.97 83.60,181.14 84.01,177.56 84.42,174.43 84.82,171.89 85.23,169.59 85.64,167.50 86.04,165.62 86.45,163.94 86.86,162.48 87.27,161.18 87.67,160.00 88.08,158.93 88.49,157.95 88.89,157.06 89.30,156.25 89.71,155.52 90.12,154.85 90.52,154.22 90.93,153.65 91.34,153.15 91.74,152.71 92.15,152.32 92.56,151.96 92.97,151.62 93.37,151.30 93.78,151.00 94.19,150.73 94.59,150.47 95.00,150.23 95.41,150.01 95.82,149.81 96.22,149.62 96.63,149.43 97.04,149.24 97.45,149.06 97.85,148.89 98.26,148.73 98.67,148.58 99.07,148.44 99.48,148.31 99.89,148.19 100.30,148.08 100.70,147.99 101.11,147.91 101.52,147.84 101.92,147.77 102.33,147.70 102.74,147.63 103.15,147.57 103.55,147.51 103.96,147.45 104.37,147.39 104.77,147.34 105.18,147.29 105.59,147.25 106.00,147.21 106.40,147.18 106.81,147.15 107.22,147.13 107.62,147.11 108.03,147.11 108.44,147.11 108.85,147.11 109.25,147.13 109.66,147.15 110.07,147.18 110.48,147.21 110.88,147.25 111.29,147.30 111.70,147.35 112.10,147.40 112.51,147.46 112.92,147.52 113.33,147.58 113.73,147.65 114.14,147.72 114.55,147.78 114.95,147.85 115.36,147.92 115.77,147.99 116.18,148.06 116.58,148.13 116.99,148.19 117.40,148.27 117.80,148.34 118.21,148.42 118.62,148.51 119.03,148.60 119.43,148.69 119.84,148.79 120.25,148.89 120.66,148.99 121.06,149.09 121.47,149.20 121.88,149.31 122.28,149.41 122.69,149.52 123.10,149.63 123.51,149.75 123.91,149.86 124.32,149.97 124.73,150.08 125.13,150.19 125.54,150.30 125.95,150.41 126.36,150.52 126.76,150.62 127.17,150.72 127.58,150.83 127.98,150.93 128.39,151.03 128.80,151.14 129.21,151.24 129.61,151.34 130.02,151.45 130.43,151.55 130.83,151.66 131.24,151.76 131.65,151.87 132.06,151.98 132.46,152.08 132.87,152.19 133.28,152.29 133.69,152.40 134.09,152.50 134.50,152.61 134.91,152.72 135.31,152.82 135.72,152.93 136.13,153.04 136.54,153.14 136.94,153.25 137.35,153.36 137.76,153.46 138.16,153.57 138.57,153.67 138.98,153.78 139.39,153.89 139.79,153.99 140.20,154.10 140.61,154.20 141.01,154.31 141.42,154.42 141.83,154.52 142.24,154.63 142.64,154.74 143.05,154.85 143.46,154.95 143.86,155.06 144.27,155.17 144.68,155.27 145.09,155.38 145.49,155.49 145.90,155.60 146.31,155.70 146.72,155.81 147.12,155.91 147.53,156.02 147.94,156.12 148.34,156.23 148.75,156.33 149.16,156.44 149.57,156.54 149.97,156.65 150.38,156.75 150.79,156.85 151.19,156.95 151.60,157.05 152.01,157.14 152.42,157.24 152.82,157.34 153.23,157.43 153.64,157.53 154.04,157.63 154.45,157.72 154.86,157.82 155.27,157.92 155.67,158.02 156.08,158.12 156.49,158.22 156.89,158.33 157.30,158.43 157.71,158.54 158.12,158.65 158.52,158.76 158.93,158.88 159.34,158.99 159.75,159.11 160.15,159.23 160.56,159.35 160.97,159.48 161.37,159.60 161.78,159.73 162.19,159.86 162.60,159.99 163.00,160.12 163.41,160.25 163.82,160.38 164.22,160.52 164.63,160.65 165.04,160.79 165.45,160.92 165.85,161.06 166.26,161.20 166.67,161.34 167.07,161.48 167.48,161.61 167.89,161.75 168.30,161.89 168.70,162.03 169.11,162.17 169.52,162.31 169.93,162.45 170.33,162.59 170.74,162.73 171.15,162.87 171.55,163.01 171.96,163.14 172.37,163.28 172.78,163.42 173.18,163.55 173.59,163.68 174.00,163.82 174.40,163.95 174.81,164.08 175.22,164.21 175.63,164.34 176.03,164.46 176.44,164.59 176.85,164.71 177.25,164.84 177.66,164.96 178.07,165.07 178.48,165.19 178.88,165.30 179.29,165.42 179.70,165.53 180.10,165.63 180.51,165.74 180.92,165.84 181.33,165.94 181.73,166.05 182.14,166.15 182.55,166.25 182.96,166.35 183.36,166.45 183.77,166.55 184.18,166.64 184.58,166.74 184.99,166.84 185.40,166.93 185.81,167.03 186.21,167.12 186.62,167.22 187.03,167.31 187.43,167.40 187.84,167.50 188.25,167.59 188.66,167.68 189.06,167.77 189.47,167.86 189.88,167.95 190.28,168.04 190.69,168.13 191.10,168.22 191.51,168.30 191.91,168.39 192.32,168.48 192.73,168.56 193.13,168.65 193.54,168.73 193.95,168.82 194.36,168.90 194.76,168.99 195.17,169.07 195.58,169.15 195.99,169.24 196.39,169.32 196.80,169.40 197.21,169.48 197.61,169.56 198.02,169.64 198.43,169.72 198.84,169.80 199.24,169.88 199.65,169.96 200.06,170.04 200.46,170.12 200.87,170.20 201.28,170.28 201.69,170.36 202.09,170.43 202.50,170.51 202.91,170.59 203.31,170.66 203.72,170.74 204.13,170.82 204.54,170.89 204.94,170.97 205.35,171.04 205.76,171.12 206.17,171.19 206.57,171.27 206.98,171.34 207.39,171.42 207.79,171.49 208.20,171.57 208.61,171.64 209.02,171.72 209.42,171.79 209.83,171.86 210.24,171.94 210.64,172.01 211.05,172.08 211.46,172.16 211.87,172.23 212.27,172.30 212.68,172.37 213.09,172.45 213.49,172.52 213.90,172.59 214.31,172.66 214.72,172.73 215.12,172.80 215.53,172.87 215.94,172.94 216.34,173.02 216.75,173.09 217.16,173.16 217.57,173.22 217.97,173.29 218.38,173.36 218.79,173.43 219.20,173.50 219.60,173.57 220.01,173.64 220.42,173.71 220.82,173.77 221.23,173.84 221.64,173.91 222.05,173.98 222.45,174.04 222.86,174.11 223.27,174.18 223.67,174.24 224.08,174.31 224.49,174.37 224.90,174.44 225.30,174.51 225.71,174.57 226.12,174.64 226.52,174.70 226.93,174.76 227.34,174.83 227.75,174.89 228.15,174.95 228.56,175.02 228.97,175.08 229.37,175.14 229.78,175.21 230.19,175.27 230.60,175.33 231.00,175.39 231.41,175.45 231.82,175.51 232.23,175.57 232.63,175.63 233.04,175.69 233.45,175.75 233.85,175.81 234.26,175.87 234.67,175.93 235.08,175.99 235.48,176.05 235.89,176.11 236.30,176.16 236.70,176.22 237.11,176.28 237.52,176.33 237.93,176.39 238.33,176.45 238.74,176.50 239.15,176.56 239.55,176.61 239.96,176.67 240.37,176.72" fill="none" stroke="#1a1a1a" stroke-width="1.45" stroke-linejoin="round" stroke-linecap="round"/>
<circle cx="78.03" cy="219.92" r="2.4" fill="#EBB046"/>
<circle cx="78.29" cy="219.36" r="2.4" fill="#EBB046"/>
<circle cx="79.35" cy="215.39" r="2.4" fill="#EBB046"/>
<circle cx="80.32" cy="209.83" r="2.4" fill="#EBB046"/>
<circle cx="81.45" cy="203.48" r="2.4" fill="#EBB046"/>
<circle cx="82.75" cy="193.16" r="2.4" fill="#EBB046"/>
<circle cx="84.20" cy="183.63" r="2.4" fill="#EBB046"/>
<circle cx="85.81" cy="175.69" r="2.4" fill="#EBB046"/>
<circle cx="87.75" cy="169.34" r="2.4" fill="#EBB046"/>
<circle cx="89.85" cy="165.37" r="2.4" fill="#EBB046"/>
<circle cx="92.73" cy="161.80" r="2.4" fill="#EBB046"/>
<circle cx="96.63" cy="159.41" r="2.4" fill="#EBB046"/>
<circle cx="102.12" cy="157.82" r="2.4" fill="#EBB046"/>
<circle cx="108.84" cy="157.11" r="2.4" fill="#EBB046"/>
<circle cx="117.14" cy="157.82" r="2.4" fill="#EBB046"/>
<circle cx="127.97" cy="159.41" r="2.4" fill="#EBB046"/>
<circle cx="141.21" cy="161.40" r="2.4" fill="#EBB046"/>
<circle cx="154.77" cy="162.99" r="2.4" fill="#EBB046"/>
<circle cx="168.34" cy="164.89" r="2.4" fill="#EBB046"/>
<circle cx="181.58" cy="167.59" r="2.4" fill="#EBB046"/>
<circle cx="195.15" cy="169.89" r="2.4" fill="#EBB046"/>
<circle cx="209.04" cy="172.51" r="2.4" fill="#EBB046"/>
<circle cx="222.28" cy="175.53" r="2.4" fill="#EBB046"/>
<circle cx="240.69" cy="177.91" r="2.4" fill="#EBB046"/>
<rect x="76.18" y="218.30" width="3.7" height="3.7" fill="#1C1AB0"/>
<rect x="76.44" y="217.51" width="3.7" height="3.7" fill="#1C1AB0"/>
<rect x="77.50" y="214.33" width="3.7" height="3.7" fill="#1C1AB0"/>
<rect x="78.47" y="209.57" width="3.7" height="3.7" fill="#1C1AB0"/>
<rect x="79.60" y="203.22" width="3.7" height="3.7" fill="#1C1AB0"/>
<rect x="80.90" y="193.69" width="3.7" height="3.7" fill="#1C1AB0"/>
<rect x="82.35" y="184.16" width="3.7" height="3.7" fill="#1C1AB0"/>
<rect x="83.96" y="176.22" width="3.7" height="3.7" fill="#1C1AB0"/>
<rect x="85.90" y="170.66" width="3.7" height="3.7" fill="#1C1AB0"/>
<rect x="88.00" y="166.69" width="3.7" height="3.7" fill="#1C1AB0"/>
<rect x="90.88" y="163.12" width="3.7" height="3.7" fill="#1C1AB0"/>
<rect x="94.78" y="161.29" width="3.7" height="3.7" fill="#1C1AB0"/>
<rect x="100.28" y="159.95" width="3.7" height="3.7" fill="#1C1AB0"/>
<rect x="106.99" y="159.07" width="3.7" height="3.7" fill="#1C1AB0"/>
<rect x="115.29" y="159.55" width="3.7" height="3.7" fill="#1C1AB0"/>
<rect x="126.12" y="161.37" width="3.7" height="3.7" fill="#1C1AB0"/>
<rect x="139.36" y="162.72" width="3.7" height="3.7" fill="#1C1AB0"/>
<rect x="152.92" y="164.23" width="3.7" height="3.7" fill="#1C1AB0"/>
<rect x="166.49" y="166.54" width="3.7" height="3.7" fill="#1C1AB0"/>
<rect x="179.73" y="168.92" width="3.7" height="3.7" fill="#1C1AB0"/>
<rect x="193.30" y="171.38" width="3.7" height="3.7" fill="#1C1AB0"/>
<rect x="207.19" y="173.68" width="3.7" height="3.7" fill="#1C1AB0"/>
<rect x="220.43" y="176.54" width="3.7" height="3.7" fill="#1C1AB0"/>
<rect x="238.84" y="179.64" width="3.7" height="3.7" fill="#1C1AB0"/>
<polygon points="78.03,218.27 79.83,221.41 76.23,221.41" fill="#C42232"/>
<polygon points="78.29,217.88 80.09,221.01 76.49,221.01" fill="#C42232"/>
<polygon points="79.35,215.89 81.15,219.02 77.55,219.02" fill="#C42232"/>
<polygon points="80.32,213.51 82.12,216.64 78.52,216.64" fill="#C42232"/>
<polygon points="81.45,210.33 83.25,213.47 79.65,213.47" fill="#C42232"/>
<polygon points="82.75,205.57 84.55,208.70 80.95,208.70" fill="#C42232"/>
<polygon points="84.20,200.01 86.00,203.14 82.40,203.14" fill="#C42232"/>
<polygon points="85.81,194.45 87.61,197.59 84.01,197.59" fill="#C42232"/>
<polygon points="87.75,189.69 89.55,192.82 85.95,192.82" fill="#C42232"/>
<polygon points="89.85,186.51 91.65,189.65 88.05,189.65" fill="#C42232"/>
<polygon points="92.73,183.74 94.53,186.87 90.93,186.87" fill="#C42232"/>
<polygon points="96.63,181.35 98.43,184.49 94.83,184.49" fill="#C42232"/>
<polygon points="102.12,179.77 103.92,182.90 100.33,182.90" fill="#C42232"/>
<polygon points="108.84,178.57 110.64,181.71 107.04,181.71" fill="#C42232"/>
<polygon points="117.14,177.94 118.94,181.07 115.34,181.07" fill="#C42232"/>
<polygon points="127.97,179.61 129.77,182.74 126.17,182.74" fill="#C42232"/>
<polygon points="141.21,180.96 143.01,184.09 139.41,184.09" fill="#C42232"/>
<polygon points="154.77,181.51 156.57,184.64 152.97,184.64" fill="#C42232"/>
<polygon points="168.34,183.10 170.14,186.23 166.54,186.23" fill="#C42232"/>
<polygon points="181.58,184.85 183.38,187.98 179.78,187.98" fill="#C42232"/>
<polygon points="195.15,186.75 196.95,189.89 193.35,189.89" fill="#C42232"/>
<polygon points="209.04,188.34 210.84,191.47 207.24,191.47" fill="#C42232"/>
<polygon points="222.28,190.25 224.08,193.38 220.48,193.38" fill="#C42232"/>
<polygon points="240.69,192.15 242.49,195.28 238.89,195.28" fill="#C42232"/>
<line x1="69.40" y1="143.50" x2="69.40" y2="230.70" stroke="#404040" stroke-width="1.3"/>
<line x1="69.40" y1="230.70" x2="248.30" y2="230.70" stroke="#404040" stroke-width="1.3"/>
<line x1="94.80" y1="197.30" x2="106.60" y2="197.30" stroke="#161630" stroke-width="1.9"/>
<circle cx="100.70" cy="204.40" r="2.3" fill="#E4B048"/>
<rect x="99.05" y="209.85" width="3.3" height="3.3" fill="#1414B4"/>
<polygon points="100.70,216.72 102.50,219.85 98.90,219.85" fill="#B82838"/>
<text x="108.80" y="199.90" font-size="7.6" font-weight="bold" letter-spacing="-0.3" fill="#111" stroke="#111" stroke-width="0.2">DNS</text>
<text x="108.80" y="207.00" font-size="7.6" font-weight="bold" letter-spacing="-0.3" fill="#111" stroke="#111" stroke-width="0.2">Case1</text>
<text x="108.80" y="214.10" font-size="7.6" font-weight="bold" letter-spacing="-0.3" fill="#111" stroke="#111" stroke-width="0.2">Case2</text>
<text x="108.80" y="221.20" font-size="7.6" font-weight="bold" letter-spacing="-0.3" fill="#111" stroke="#111" stroke-width="0.2">Case3</text>
<text x="0.60" y="145.70" font-size="16.5" font-weight="bold" fill="#111" stroke="#111" stroke-width="0.35">(</text>
<text x="5.90" y="145.70" font-size="16.5" font-weight="bold" fill="#111" stroke="#111" stroke-width="0.35">c</text>
<text x="13.60" y="145.70" font-size="16.5" font-weight="bold" fill="#111" stroke="#111" stroke-width="0.35">)</text>
<text x="23.20" y="187.60" font-size="15" font-style="italic" fill="#111" stroke="#111" stroke-width="0.7">v</text>
<text x="30.60" y="188.40" font-size="12" font-style="italic" fill="#111" stroke="#111" stroke-width="0.35">rms</text>
<text x="27.30" y="180.00" font-size="10.5" fill="#111" stroke="#111" stroke-width="0.3">+</text>
<text x="151.30" y="257.80" font-size="17" font-style="italic" fill="#111" stroke="#111" stroke-width="0.35">y</text>
<text x="158.85" y="252.30" font-size="11" fill="#111" stroke="#111" stroke-width="0.25">+</text>
<line x1="335.90" y1="143.70" x2="520.00" y2="143.70" stroke="#a8a8a8" stroke-width="1.2"/>
<line x1="518.30" y1="143.70" x2="518.30" y2="230.60" stroke="#a8a8a8" stroke-width="1.2"/>
<line x1="348.10" y1="230.60" x2="348.10" y2="233.90" stroke="#404040" stroke-width="1.0"/>
<text x="348.10" y="243.60" font-size="11" text-anchor="middle" fill="#111" stroke="#111" stroke-width="0.45">0</text>
<line x1="380.36" y1="230.60" x2="380.36" y2="233.90" stroke="#404040" stroke-width="1.0"/>
<text x="380.36" y="243.60" font-size="11" text-anchor="middle" fill="#111" stroke="#111" stroke-width="0.45">100</text>
<line x1="412.62" y1="230.60" x2="412.62" y2="233.90" stroke="#404040" stroke-width="1.0"/>
<text x="412.62" y="243.60" font-size="11" text-anchor="middle" fill="#111" stroke="#111" stroke-width="0.45">200</text>
<line x1="444.88" y1="230.60" x2="444.88" y2="233.90" stroke="#404040" stroke-width="1.0"/>
<text x="444.88" y="243.60" font-size="11" text-anchor="middle" fill="#111" stroke="#111" stroke-width="0.45">300</text>
<line x1="477.14" y1="230.60" x2="477.14" y2="233.90" stroke="#404040" stroke-width="1.0"/>
<text x="477.14" y="243.60" font-size="11" text-anchor="middle" fill="#111" stroke="#111" stroke-width="0.45">400</text>
<line x1="509.40" y1="230.60" x2="509.40" y2="233.90" stroke="#404040" stroke-width="1.0"/>
<text x="509.40" y="243.60" font-size="11" text-anchor="middle" fill="#111" stroke="#111" stroke-width="0.45">500</text>
<text x="334.80" y="147.60" font-size="11" text-anchor="end" fill="#111" stroke="#111" stroke-width="0.45">1.4</text>
<line x1="336.00" y1="227.30" x2="339.80" y2="227.30" stroke="#404040" stroke-width="1.0"/>
<text x="334.80" y="231.20" font-size="11" text-anchor="end" fill="#111" stroke="#111" stroke-width="0.45">0</text>
<line x1="336.00" y1="215.40" x2="339.80" y2="215.40" stroke="#404040" stroke-width="1.0"/>
<text x="334.80" y="219.30" font-size="11" text-anchor="end" fill="#111" stroke="#111" stroke-width="0.45">0.2</text>
<line x1="336.00" y1="203.30" x2="339.80" y2="203.30" stroke="#404040" stroke-width="1.0"/>
<text x="334.80" y="207.20" font-size="11" text-anchor="end" fill="#111" stroke="#111" stroke-width="0.45">0.4</text>
<line x1="336.00" y1="191.30" x2="339.80" y2="191.30" stroke="#404040" stroke-width="1.0"/>
<text x="334.80" y="195.20" font-size="11" text-anchor="end" fill="#111" stroke="#111" stroke-width="0.45">0.6</text>
<line x1="336.00" y1="179.40" x2="339.80" y2="179.40" stroke="#404040" stroke-width="1.0"/>
<text x="334.80" y="183.30" font-size="11" text-anchor="end" fill="#111" stroke="#111" stroke-width="0.45">0.8</text>
<line x1="336.00" y1="167.40" x2="339.80" y2="167.40" stroke="#404040" stroke-width="1.0"/>
<text x="334.80" y="171.30" font-size="11" text-anchor="end" fill="#111" stroke="#111" stroke-width="0.45">1</text>
<line x1="336.00" y1="155.40" x2="339.80" y2="155.40" stroke="#404040" stroke-width="1.0"/>
<text x="334.80" y="159.30" font-size="11" text-anchor="end" fill="#111" stroke="#111" stroke-width="0.45">1.2</text>
<polyline points="348.10,227.30 348.51,212.56 348.91,199.74 349.32,188.65 349.73,180.32 350.13,173.73 350.54,168.29 350.95,164.83 351.35,162.22 351.76,160.15 352.17,158.41 352.57,156.84 352.98,155.43 353.39,154.18 353.79,153.10 354.20,152.18 354.61,151.38 355.01,150.68 355.42,150.06 355.83,149.53 356.23,149.09 356.64,148.69 357.05,148.33 357.45,148.01 357.86,147.74 358.27,147.55 358.67,147.43 359.08,147.32 359.49,147.22 359.89,147.15 360.30,147.10 360.71,147.08 361.11,147.09 361.52,147.11 361.93,147.13 362.33,147.17 362.74,147.21 363.15,147.25 363.55,147.30 363.96,147.35 364.37,147.40 364.77,147.46 365.18,147.54 365.59,147.63 365.99,147.72 366.40,147.83 366.81,147.93 367.21,148.03 367.62,148.13 368.03,148.23 368.43,148.33 368.84,148.43 369.25,148.53 369.65,148.64 370.06,148.74 370.47,148.85 370.87,148.96 371.28,149.07 371.69,149.18 372.09,149.29 372.50,149.40 372.91,149.52 373.31,149.63 373.72,149.75 374.13,149.86 374.53,149.98 374.94,150.10 375.35,150.21 375.75,150.33 376.16,150.45 376.57,150.57 376.97,150.69 377.38,150.81 377.79,150.93 378.19,151.06 378.60,151.18 379.01,151.30 379.41,151.43 379.82,151.56 380.23,151.68 380.63,151.81 381.04,151.94 381.45,152.07 381.85,152.20 382.26,152.33 382.67,152.46 383.08,152.60 383.48,152.73 383.89,152.86 384.30,153.00 384.70,153.14 385.11,153.27 385.52,153.41 385.92,153.55 386.33,153.68 386.74,153.82 387.14,153.96 387.55,154.10 387.96,154.24 388.36,154.38 388.77,154.52 389.18,154.66 389.58,154.80 389.99,154.94 390.40,155.08 390.80,155.22 391.21,155.36 391.62,155.50 392.02,155.64 392.43,155.78 392.84,155.92 393.24,156.06 393.65,156.20 394.06,156.34 394.46,156.48 394.87,156.62 395.28,156.76 395.68,156.90 396.09,157.04 396.50,157.17 396.90,157.31 397.31,157.45 397.72,157.58 398.12,157.72 398.53,157.86 398.94,157.99 399.34,158.13 399.75,158.26 400.16,158.40 400.56,158.53 400.97,158.67 401.38,158.81 401.78,158.94 402.19,159.08 402.60,159.22 403.00,159.36 403.41,159.49 403.82,159.63 404.22,159.77 404.63,159.91 405.04,160.05 405.44,160.19 405.85,160.33 406.26,160.47 406.66,160.60 407.07,160.74 407.48,160.88 407.88,161.02 408.29,161.16 408.70,161.30 409.10,161.43 409.51,161.57 409.92,161.71 410.32,161.84 410.73,161.98 411.14,162.12 411.54,162.25 411.95,162.39 412.36,162.52 412.76,162.65 413.17,162.79 413.58,162.92 413.98,163.05 414.39,163.18 414.80,163.31 415.20,163.44 415.61,163.57 416.02,163.70 416.42,163.82 416.83,163.95 417.24,164.07 417.64,164.20 418.05,164.32 418.46,164.44 418.86,164.56 419.27,164.68 419.68,164.80 420.08,164.92 420.49,165.03 420.90,165.14 421.30,165.25 421.71,165.36 422.12,165.47 422.52,165.58 422.93,165.68 423.34,165.79 423.74,165.89 424.15,165.99 424.56,166.09 424.96,166.19 425.37,166.29 425.78,166.40 426.18,166.50 426.59,166.60 427.00,166.70 427.40,166.80 427.81,166.91 428.22,167.01 428.62,167.12 429.03,167.23 429.44,167.34 429.84,167.45 430.25,167.57 430.66,167.68 431.06,167.80 431.47,167.92 431.88,168.04 432.28,168.16 432.69,168.28 433.10,168.40 433.50,168.52 433.91,168.64 434.32,168.77 434.72,168.89 435.13,169.02 435.54,169.15 435.94,169.27 436.35,169.40 436.76,169.53 437.16,169.66 437.57,169.79 437.98,169.92 438.38,170.05 438.79,170.18 439.20,170.31 439.60,170.44 440.01,170.57 440.42,170.70 440.82,170.84 441.23,170.97 441.64,171.10 442.04,171.23 442.45,171.36 442.86,171.50 443.26,171.63 443.67,171.76 444.08,171.89 444.48,172.02 444.89,172.16 445.30,172.29 445.70,172.42 446.11,172.55 446.52,172.68 446.92,172.81 447.33,172.94 447.74,173.07 448.14,173.20 448.55,173.32 448.96,173.45 449.36,173.58 449.77,173.71 450.18,173.83 450.58,173.96 450.99,174.08 451.40,174.20 451.80,174.32 452.21,174.44 452.62,174.56 453.03,174.68 453.43,174.80 453.84,174.92 454.25,175.03 454.65,175.15 455.06,175.27 455.47,175.38 455.87,175.49 456.28,175.61 456.69,175.72 457.09,175.83 457.50,175.95 457.91,176.06 458.31,176.17 458.72,176.28 459.13,176.40 459.53,176.51 459.94,176.62 460.35,176.74 460.75,176.85 461.16,176.97 461.57,177.08 461.97,177.20 462.38,177.32 462.79,177.44 463.19,177.55 463.60,177.68 464.01,177.80 464.41,177.92 464.82,178.04 465.23,178.17 465.63,178.30 466.04,178.43 466.45,178.56 466.85,178.70 467.26,178.83 467.67,178.97 468.07,179.11 468.48,179.25 468.89,179.39 469.29,179.54 469.70,179.68 470.11,179.83 470.51,179.97 470.92,180.12 471.33,180.26 471.73,180.41 472.14,180.56 472.55,180.70 472.95,180.85 473.36,181.00 473.77,181.14 474.17,181.28 474.58,181.43 474.99,181.57 475.39,181.71 475.80,181.85 476.21,181.99 476.61,182.12 477.02,182.26 477.43,182.39 477.83,182.52 478.24,182.65 478.65,182.77 479.05,182.89 479.46,183.01 479.87,183.13 480.27,183.26 480.68,183.38 481.09,183.50 481.49,183.62 481.90,183.74 482.31,183.85 482.71,183.97 483.12,184.09 483.53,184.21 483.93,184.32 484.34,184.44 484.75,184.55 485.15,184.67 485.56,184.78 485.97,184.89 486.37,185.00 486.78,185.11 487.19,185.22 487.59,185.32 488.00,185.42 488.41,185.53 488.81,185.63 489.22,185.72 489.63,185.82 490.03,185.91 490.44,186.00 490.85,186.09 491.25,186.18 491.66,186.26 492.07,186.34 492.47,186.42 492.88,186.50 493.29,186.58 493.69,186.65 494.10,186.73 494.51,186.80 494.91,186.87 495.32,186.95 495.73,187.02 496.13,187.09 496.54,187.16 496.95,187.24 497.35,187.31 497.76,187.38 498.17,187.44 498.57,187.51 498.98,187.58 499.39,187.64 499.79,187.71 500.20,187.77 500.61,187.84 501.01,187.90 501.42,187.96 501.83,188.02 502.23,188.08 502.64,188.14 503.05,188.20 503.45,188.25 503.86,188.31 504.27,188.36 504.67,188.41 505.08,188.46 505.49,188.51 505.89,188.56 506.30,188.61 506.71,188.65 507.11,188.70 507.52,188.74 507.93,188.78 508.33,188.82 508.74,188.86 509.15,188.90 509.55,188.93 509.96,188.97 510.37,189.00" fill="none" stroke="#1a1a1a" stroke-width="1.45" stroke-linejoin="round" stroke-linecap="round"/>
<circle cx="348.23" cy="217.24" r="2.4" fill="#EBB046"/>
<circle cx="348.49" cy="212.50" r="2.4" fill="#EBB046"/>
<circle cx="349.55" cy="190.60" r="2.4" fill="#EBB046"/>
<circle cx="350.52" cy="177.57" r="2.4" fill="#EBB046"/>
<circle cx="351.65" cy="166.92" r="2.4" fill="#EBB046"/>
<circle cx="352.94" cy="159.81" r="2.4" fill="#EBB046"/>
<circle cx="354.39" cy="155.67" r="2.4" fill="#EBB046"/>
<circle cx="356.00" cy="153.60" r="2.4" fill="#EBB046"/>
<circle cx="357.94" cy="153.00" r="2.4" fill="#EBB046"/>
<circle cx="360.04" cy="153.00" r="2.4" fill="#EBB046"/>
<circle cx="362.91" cy="153.60" r="2.4" fill="#EBB046"/>
<circle cx="366.81" cy="154.78" r="2.4" fill="#EBB046"/>
<circle cx="372.30" cy="156.85" r="2.4" fill="#EBB046"/>
<circle cx="379.01" cy="158.92" r="2.4" fill="#EBB046"/>
<circle cx="387.30" cy="161.82" r="2.4" fill="#EBB046"/>
<circle cx="398.10" cy="164.90" r="2.4" fill="#EBB046"/>
<circle cx="411.33" cy="168.10" r="2.4" fill="#EBB046"/>
<circle cx="424.88" cy="170.76" r="2.4" fill="#EBB046"/>
<circle cx="438.43" cy="172.01" r="2.4" fill="#EBB046"/>
<circle cx="451.65" cy="175.50" r="2.4" fill="#EBB046"/>
<circle cx="465.20" cy="179.11" r="2.4" fill="#EBB046"/>
<circle cx="479.08" cy="183.79" r="2.4" fill="#EBB046"/>
<circle cx="492.30" cy="187.34" r="2.4" fill="#EBB046"/>
<circle cx="510.69" cy="192.08" r="2.4" fill="#EBB046"/>
<rect x="346.38" y="215.98" width="3.7" height="3.7" fill="#1C1AB0"/>
<rect x="346.64" y="210.65" width="3.7" height="3.7" fill="#1C1AB0"/>
<rect x="347.70" y="189.93" width="3.7" height="3.7" fill="#1C1AB0"/>
<rect x="348.67" y="176.31" width="3.7" height="3.7" fill="#1C1AB0"/>
<rect x="349.80" y="166.25" width="3.7" height="3.7" fill="#1C1AB0"/>
<rect x="351.09" y="160.33" width="3.7" height="3.7" fill="#1C1AB0"/>
<rect x="352.54" y="156.78" width="3.7" height="3.7" fill="#1C1AB0"/>
<rect x="354.15" y="155.00" width="3.7" height="3.7" fill="#1C1AB0"/>
<rect x="356.09" y="154.41" width="3.7" height="3.7" fill="#1C1AB0"/>
<rect x="358.19" y="154.41" width="3.7" height="3.7" fill="#1C1AB0"/>
<rect x="361.06" y="154.71" width="3.7" height="3.7" fill="#1C1AB0"/>
<rect x="364.96" y="156.19" width="3.7" height="3.7" fill="#1C1AB0"/>
<rect x="370.44" y="158.79" width="3.7" height="3.7" fill="#1C1AB0"/>
<rect x="377.16" y="160.63" width="3.7" height="3.7" fill="#1C1AB0"/>
<rect x="385.45" y="163.29" width="3.7" height="3.7" fill="#1C1AB0"/>
<rect x="396.25" y="165.48" width="3.7" height="3.7" fill="#1C1AB0"/>
<rect x="409.48" y="168.44" width="3.7" height="3.7" fill="#1C1AB0"/>
<rect x="423.03" y="171.76" width="3.7" height="3.7" fill="#1C1AB0"/>
<rect x="436.58" y="173.24" width="3.7" height="3.7" fill="#1C1AB0"/>
<rect x="449.80" y="176.08" width="3.7" height="3.7" fill="#1C1AB0"/>
<rect x="463.35" y="179.63" width="3.7" height="3.7" fill="#1C1AB0"/>
<rect x="477.23" y="183.65" width="3.7" height="3.7" fill="#1C1AB0"/>
<rect x="490.45" y="187.44" width="3.7" height="3.7" fill="#1C1AB0"/>
<rect x="508.84" y="192.18" width="3.7" height="3.7" fill="#1C1AB0"/>
<polygon points="348.23,216.54 350.03,219.67 346.43,219.67" fill="#C42232"/>
<polygon points="348.49,213.58 350.29,216.71 346.69,216.71" fill="#C42232"/>
<polygon points="349.55,200.56 351.35,203.69 347.75,203.69" fill="#C42232"/>
<polygon points="350.52,183.98 352.32,187.11 348.72,187.11" fill="#C42232"/>
<polygon points="351.65,178.06 353.45,181.19 349.85,181.19" fill="#C42232"/>
<polygon points="352.94,173.92 354.74,177.05 351.14,177.05" fill="#C42232"/>
<polygon points="354.39,171.84 356.19,174.98 352.59,174.98" fill="#C42232"/>
<polygon points="356.00,170.96 357.80,174.09 354.20,174.09" fill="#C42232"/>
<polygon points="357.94,170.36 359.74,173.50 356.14,173.50" fill="#C42232"/>
<polygon points="360.04,170.66 361.84,173.79 358.24,173.79" fill="#C42232"/>
<polygon points="362.91,171.08 364.71,174.21 361.11,174.21" fill="#C42232"/>
<polygon points="366.81,171.84 368.61,174.98 365.01,174.98" fill="#C42232"/>
<polygon points="372.30,174.21 374.10,177.34 370.50,177.34" fill="#C42232"/>
<polygon points="379.01,174.80 380.81,177.94 377.21,177.94" fill="#C42232"/>
<polygon points="387.30,176.05 389.10,179.18 385.50,179.18" fill="#C42232"/>
<polygon points="398.10,178.42 399.90,181.55 396.30,181.55" fill="#C42232"/>
<polygon points="411.33,181.49 413.13,184.63 409.53,184.63" fill="#C42232"/>
<polygon points="424.88,183.15 426.68,186.28 423.08,186.28" fill="#C42232"/>
<polygon points="438.43,183.63 440.23,186.76 436.63,186.76" fill="#C42232"/>
<polygon points="451.65,186.23 453.45,189.36 449.85,189.36" fill="#C42232"/>
<polygon points="465.20,189.13 467.00,192.26 463.40,192.26" fill="#C42232"/>
<polygon points="479.08,192.62 480.88,195.76 477.28,195.76" fill="#C42232"/>
<polygon points="492.30,195.41 494.10,198.54 490.50,198.54" fill="#C42232"/>
<polygon points="510.69,199.20 512.49,202.33 508.89,202.33" fill="#C42232"/>
<line x1="339.80" y1="143.70" x2="339.80" y2="230.60" stroke="#404040" stroke-width="1.3"/>
<line x1="339.80" y1="230.60" x2="518.30" y2="230.60" stroke="#404040" stroke-width="1.3"/>
<line x1="384.90" y1="190.40" x2="397.40" y2="190.40" stroke="#161630" stroke-width="1.9"/>
<circle cx="391.15" cy="197.55" r="2.3" fill="#E4B048"/>
<rect x="389.50" y="203.05" width="3.3" height="3.3" fill="#1414B4"/>
<polygon points="391.15,209.97 392.95,213.10 389.35,213.10" fill="#B82838"/>
<text x="399.50" y="193.00" font-size="7.6" font-weight="bold" letter-spacing="-0.3" fill="#111" stroke="#111" stroke-width="0.2">DNS</text>
<text x="399.50" y="200.15" font-size="7.6" font-weight="bold" letter-spacing="-0.3" fill="#111" stroke="#111" stroke-width="0.2">Case1</text>
<text x="399.50" y="207.30" font-size="7.6" font-weight="bold" letter-spacing="-0.3" fill="#111" stroke="#111" stroke-width="0.2">Case2</text>
<text x="399.50" y="214.45" font-size="7.6" font-weight="bold" letter-spacing="-0.3" fill="#111" stroke="#111" stroke-width="0.2">Case3</text>
<text x="269.00" y="140.20" font-size="16.5" fill="#111" stroke="#111" stroke-width="0.35">(</text>
<text x="274.40" y="140.20" font-size="16.5" fill="#111" stroke="#111" stroke-width="0.35">d</text>
<text x="283.20" y="140.20" font-size="16.5" fill="#111" stroke="#111" stroke-width="0.35">)</text>
<text x="289.60" y="185.80" font-size="15.5" font-style="italic" fill="#111" stroke="#111" stroke-width="0.6">w</text>
<text x="299.80" y="186.40" font-size="12" font-style="italic" fill="#111" stroke="#111" stroke-width="0.35">rms</text>
<text x="296.60" y="177.60" font-size="10.5" fill="#111" stroke="#111" stroke-width="0.3">+</text>
<text x="421.30" y="257.80" font-size="17" font-style="italic" fill="#111" stroke="#111" stroke-width="0.35">y</text>
<text x="429.25" y="252.30" font-size="11" fill="#111" stroke="#111" stroke-width="0.25">+</text>
<line x1="248.30" y1="269.80" x2="248.30" y2="356.30" stroke="#c4c4c4" stroke-width="1.2"/>
<line x1="77.90" y1="356.30" x2="77.90" y2="359.60" stroke="#404040" stroke-width="1.0"/>
<text x="77.90" y="369.20" font-size="11" text-anchor="middle" fill="#111" stroke="#111" stroke-width="0.45">0</text>
<line x1="110.20" y1="356.30" x2="110.20" y2="359.60" stroke="#404040" stroke-width="1.0"/>
<text x="110.20" y="369.20" font-size="11" text-anchor="middle" fill="#111" stroke="#111" stroke-width="0.45">100</text>
<line x1="142.50" y1="356.30" x2="142.50" y2="359.60" stroke="#404040" stroke-width="1.0"/>
<text x="142.50" y="369.20" font-size="11" text-anchor="middle" fill="#111" stroke="#111" stroke-width="0.45">200</text>
<line x1="174.80" y1="356.30" x2="174.80" y2="359.60" stroke="#404040" stroke-width="1.0"/>
<text x="174.80" y="369.20" font-size="11" text-anchor="middle" fill="#111" stroke="#111" stroke-width="0.45">300</text>
<line x1="207.10" y1="356.30" x2="207.10" y2="359.60" stroke="#404040" stroke-width="1.0"/>
<text x="207.10" y="369.20" font-size="11" text-anchor="middle" fill="#111" stroke="#111" stroke-width="0.45">400</text>
<line x1="239.40" y1="356.30" x2="239.40" y2="359.60" stroke="#404040" stroke-width="1.0"/>
<text x="239.40" y="369.20" font-size="11" text-anchor="middle" fill="#111" stroke="#111" stroke-width="0.45">500</text>
<line x1="65.50" y1="352.40" x2="69.30" y2="352.40" stroke="#404040" stroke-width="1.0"/>
<text x="64.30" y="356.30" font-size="11" text-anchor="end" fill="#111" stroke="#111" stroke-width="0.45">0</text>
<line x1="65.50" y1="333.80" x2="69.30" y2="333.80" stroke="#404040" stroke-width="1.0"/>
<text x="64.30" y="337.70" font-size="11" text-anchor="end" fill="#111" stroke="#111" stroke-width="0.45">0.2</text>
<line x1="65.50" y1="315.30" x2="69.30" y2="315.30" stroke="#404040" stroke-width="1.0"/>
<text x="64.30" y="319.20" font-size="11" text-anchor="end" fill="#111" stroke="#111" stroke-width="0.45">0.4</text>
<line x1="65.50" y1="296.70" x2="69.30" y2="296.70" stroke="#404040" stroke-width="1.0"/>
<text x="64.30" y="300.60" font-size="11" text-anchor="end" fill="#111" stroke="#111" stroke-width="0.45">0.6</text>
<line x1="65.50" y1="278.20" x2="69.30" y2="278.20" stroke="#404040" stroke-width="1.0"/>
<text x="64.30" y="282.10" font-size="11" text-anchor="end" fill="#111" stroke="#111" stroke-width="0.45">0.8</text>
<polyline points="77.90,352.40 78.31,351.99 78.71,351.00 79.12,349.45 79.53,346.73 79.94,342.76 80.34,338.49 80.75,334.30 81.16,329.37 81.56,323.22 81.97,317.01 82.38,311.76 82.79,306.98 83.19,302.51 83.60,298.27 84.01,294.27 84.42,290.70 84.82,287.37 85.23,284.35 85.64,281.95 86.04,280.16 86.45,278.69 86.86,277.47 87.27,276.39 87.67,275.45 88.08,274.68 88.49,274.12 88.89,273.62 89.30,273.18 89.71,272.81 90.12,272.52 90.52,272.30 90.93,272.13 91.34,271.96 91.74,271.83 92.15,271.73 92.56,271.67 92.97,271.67 93.37,271.71 93.78,271.77 94.19,271.87 94.59,271.99 95.00,272.12 95.41,272.27 95.82,272.42 96.22,272.58 96.63,272.73 97.04,272.88 97.45,273.02 97.85,273.16 98.26,273.31 98.67,273.47 99.07,273.63 99.48,273.80 99.89,273.97 100.30,274.14 100.70,274.31 101.11,274.49 101.52,274.66 101.92,274.83 102.33,275.00 102.74,275.17 103.15,275.33 103.55,275.49 103.96,275.64 104.37,275.79 104.77,275.94 105.18,276.08 105.59,276.22 106.00,276.35 106.40,276.49 106.81,276.62 107.22,276.75 107.62,276.88 108.03,277.01 108.44,277.14 108.85,277.27 109.25,277.40 109.66,277.53 110.07,277.65 110.48,277.79 110.88,277.92 111.29,278.05 111.70,278.19 112.10,278.32 112.51,278.47 112.92,278.61 113.33,278.76 113.73,278.91 114.14,279.06 114.55,279.22 114.95,279.38 115.36,279.55 115.77,279.72 116.18,279.90 116.58,280.09 116.99,280.28 117.40,280.48 117.80,280.68 118.21,280.89 118.62,281.10 119.03,281.31 119.43,281.53 119.84,281.75 120.25,281.98 120.66,282.21 121.06,282.43 121.47,282.66 121.88,282.90 122.28,283.13 122.69,283.36 123.10,283.59 123.51,283.82 123.91,284.05 124.32,284.28 124.73,284.51 125.13,284.74 125.54,284.96 125.95,285.18 126.36,285.40 126.76,285.62 127.17,285.83 127.58,286.05 127.98,286.26 128.39,286.48 128.80,286.70 129.21,286.91 129.61,287.13 130.02,287.34 130.43,287.55 130.83,287.77 131.24,287.98 131.65,288.20 132.06,288.41 132.46,288.63 132.87,288.84 133.28,289.06 133.69,289.27 134.09,289.49 134.50,289.70 134.91,289.92 135.31,290.14 135.72,290.35 136.13,290.57 136.54,290.79 136.94,291.00 137.35,291.22 137.76,291.44 138.16,291.66 138.57,291.88 138.98,292.10 139.39,292.32 139.79,292.54 140.20,292.76 140.61,292.98 141.01,293.20 141.42,293.43 141.83,293.65 142.24,293.87 142.64,294.10 143.05,294.32 143.46,294.55 143.86,294.77 144.27,295.00 144.68,295.22 145.09,295.45 145.49,295.67 145.90,295.90 146.31,296.12 146.72,296.35 147.12,296.57 147.53,296.80 147.94,297.02 148.34,297.24 148.75,297.47 149.16,297.69 149.57,297.91 149.97,298.14 150.38,298.36 150.79,298.58 151.19,298.80 151.60,299.02 152.01,299.24 152.42,299.47 152.82,299.69 153.23,299.91 153.64,300.13 154.04,300.35 154.45,300.57 154.86,300.79 155.27,301.01 155.67,301.23 156.08,301.45 156.49,301.67 156.89,301.89 157.30,302.11 157.71,302.33 158.12,302.55 158.52,302.77 158.93,302.99 159.34,303.21 159.75,303.43 160.15,303.65 160.56,303.87 160.97,304.09 161.37,304.31 161.78,304.53 162.19,304.75 162.60,304.97 163.00,305.19 163.41,305.41 163.82,305.63 164.22,305.85 164.63,306.07 165.04,306.29 165.45,306.51 165.85,306.73 166.26,306.95 166.67,307.17 167.07,307.39 167.48,307.61 167.89,307.83 168.30,308.05 168.70,308.27 169.11,308.49 169.52,308.71 169.93,308.93 170.33,309.15 170.74,309.37 171.15,309.59 171.55,309.81 171.96,310.03 172.37,310.25 172.78,310.47 173.18,310.69 173.59,310.91 174.00,311.13 174.40,311.35 174.81,311.57 175.22,311.80 175.63,312.02 176.03,312.24 176.44,312.46 176.85,312.68 177.25,312.90 177.66,313.13 178.07,313.35 178.48,313.57 178.88,313.79 179.29,314.02 179.70,314.24 180.10,314.46 180.51,314.68 180.92,314.91 181.33,315.13 181.73,315.35 182.14,315.57 182.55,315.80 182.96,316.02 183.36,316.24 183.77,316.47 184.18,316.69 184.58,316.91 184.99,317.14 185.40,317.36 185.81,317.58 186.21,317.81 186.62,318.03 187.03,318.25 187.43,318.48 187.84,318.70 188.25,318.92 188.66,319.15 189.06,319.37 189.47,319.59 189.88,319.82 190.28,320.04 190.69,320.26 191.10,320.49 191.51,320.71 191.91,320.93 192.32,321.16 192.73,321.38 193.13,321.60 193.54,321.83 193.95,322.05 194.36,322.27 194.76,322.50 195.17,322.72 195.58,322.94 195.99,323.16 196.39,323.39 196.80,323.61 197.21,323.83 197.61,324.05 198.02,324.28 198.43,324.50 198.84,324.72 199.24,324.94 199.65,325.17 200.06,325.39 200.46,325.61 200.87,325.83 201.28,326.05 201.69,326.27 202.09,326.49 202.50,326.71 202.91,326.94 203.31,327.16 203.72,327.38 204.13,327.60 204.54,327.82 204.94,328.04 205.35,328.26 205.76,328.48 206.17,328.70 206.57,328.92 206.98,329.14 207.39,329.35 207.79,329.57 208.20,329.79 208.61,330.01 209.02,330.23 209.42,330.45 209.83,330.67 210.24,330.88 210.64,331.10 211.05,331.32 211.46,331.54 211.87,331.76 212.27,331.98 212.68,332.19 213.09,332.41 213.49,332.63 213.90,332.85 214.31,333.07 214.72,333.28 215.12,333.50 215.53,333.72 215.94,333.94 216.34,334.15 216.75,334.37 217.16,334.59 217.57,334.80 217.97,335.02 218.38,335.24 218.79,335.45 219.20,335.67 219.60,335.89 220.01,336.10 220.42,336.32 220.82,336.54 221.23,336.75 221.64,336.97 222.05,337.19 222.45,337.40 222.86,337.62 223.27,337.83 223.67,338.05 224.08,338.27 224.49,338.48 224.90,338.70 225.30,338.91 225.71,339.13 226.12,339.34 226.52,339.56 226.93,339.77 227.34,339.99 227.75,340.20 228.15,340.42 228.56,340.63 228.97,340.85 229.37,341.06 229.78,341.28 230.19,341.49 230.60,341.71 231.00,341.92 231.41,342.14 231.82,342.35 232.23,342.57 232.63,342.78 233.04,342.99 233.45,343.21 233.85,343.42 234.26,343.63 234.67,343.85 235.08,344.06 235.48,344.28 235.89,344.49 236.30,344.70 236.70,344.92 237.11,345.13 237.52,345.34 237.93,345.56 238.33,345.77 238.74,345.98 239.15,346.19 239.55,346.41 239.96,346.62 240.37,346.83" fill="none" stroke="#1a1a1a" stroke-width="1.45" stroke-linejoin="round" stroke-linecap="round"/>
<circle cx="78.03" cy="352.40" r="2.4" fill="#EBB046"/>
<circle cx="78.29" cy="348.69" r="2.4" fill="#EBB046"/>
<circle cx="79.35" cy="340.34" r="2.4" fill="#EBB046"/>
<circle cx="80.32" cy="331.98" r="2.4" fill="#EBB046"/>
<circle cx="81.45" cy="320.85" r="2.4" fill="#EBB046"/>
<circle cx="82.75" cy="306.00" r="2.4" fill="#EBB046"/>
<circle cx="84.20" cy="293.94" r="2.4" fill="#EBB046"/>
<circle cx="85.81" cy="282.80" r="2.4" fill="#EBB046"/>
<circle cx="87.75" cy="278.16" r="2.4" fill="#EBB046"/>
<circle cx="89.85" cy="276.30" r="2.4" fill="#EBB046"/>
<circle cx="92.73" cy="277.70" r="2.4" fill="#EBB046"/>
<circle cx="96.63" cy="280.02" r="2.4" fill="#EBB046"/>
<circle cx="102.12" cy="282.80" r="2.4" fill="#EBB046"/>
<circle cx="108.84" cy="284.19" r="2.4" fill="#EBB046"/>
<circle cx="117.14" cy="286.51" r="2.4" fill="#EBB046"/>
<circle cx="127.97" cy="291.62" r="2.4" fill="#EBB046"/>
<circle cx="141.21" cy="296.26" r="2.4" fill="#EBB046"/>
<circle cx="154.77" cy="302.29" r="2.4" fill="#EBB046"/>
<circle cx="168.34" cy="310.18" r="2.4" fill="#EBB046"/>
<circle cx="181.58" cy="316.21" r="2.4" fill="#EBB046"/>
<circle cx="195.15" cy="322.52" r="2.4" fill="#EBB046"/>
<circle cx="209.04" cy="328.27" r="2.4" fill="#EBB046"/>
<circle cx="222.28" cy="335.42" r="2.4" fill="#EBB046"/>
<circle cx="240.69" cy="344.98" r="2.4" fill="#EBB046"/>
<rect x="76.18" y="350.55" width="3.7" height="3.7" fill="#1C1AB0"/>
<rect x="76.44" y="346.84" width="3.7" height="3.7" fill="#1C1AB0"/>
<rect x="77.50" y="339.41" width="3.7" height="3.7" fill="#1C1AB0"/>
<rect x="78.47" y="330.51" width="3.7" height="3.7" fill="#1C1AB0"/>
<rect x="79.60" y="310.65" width="3.7" height="3.7" fill="#1C1AB0"/>
<rect x="80.90" y="297.19" width="3.7" height="3.7" fill="#1C1AB0"/>
<rect x="82.35" y="287.91" width="3.7" height="3.7" fill="#1C1AB0"/>
<rect x="83.96" y="281.88" width="3.7" height="3.7" fill="#1C1AB0"/>
<rect x="85.90" y="277.70" width="3.7" height="3.7" fill="#1C1AB0"/>
<rect x="88.00" y="276.31" width="3.7" height="3.7" fill="#1C1AB0"/>
<rect x="90.88" y="277.70" width="3.7" height="3.7" fill="#1C1AB0"/>
<rect x="94.78" y="280.02" width="3.7" height="3.7" fill="#1C1AB0"/>
<rect x="100.28" y="282.81" width="3.7" height="3.7" fill="#1C1AB0"/>
<rect x="106.99" y="284.20" width="3.7" height="3.7" fill="#1C1AB0"/>
<rect x="115.29" y="286.52" width="3.7" height="3.7" fill="#1C1AB0"/>
<rect x="126.12" y="292.09" width="3.7" height="3.7" fill="#1C1AB0"/>
<rect x="139.36" y="295.80" width="3.7" height="3.7" fill="#1C1AB0"/>
<rect x="152.92" y="301.83" width="3.7" height="3.7" fill="#1C1AB0"/>
<rect x="166.49" y="310.00" width="3.7" height="3.7" fill="#1C1AB0"/>
<rect x="179.73" y="315.84" width="3.7" height="3.7" fill="#1C1AB0"/>
<rect x="193.30" y="321.97" width="3.7" height="3.7" fill="#1C1AB0"/>
<rect x="207.19" y="327.72" width="3.7" height="3.7" fill="#1C1AB0"/>
<rect x="220.43" y="334.96" width="3.7" height="3.7" fill="#1C1AB0"/>
<rect x="238.84" y="343.78" width="3.7" height="3.7" fill="#1C1AB0"/>
<polygon points="78.03,350.52 79.83,353.65 76.23,353.65" fill="#C42232"/>
<polygon points="78.29,347.74 80.09,350.87 76.49,350.87" fill="#C42232"/>
<polygon points="79.35,337.53 81.15,340.66 77.55,340.66" fill="#C42232"/>
<polygon points="80.32,331.96 82.12,335.09 78.52,335.09" fill="#C42232"/>
<polygon points="81.45,321.75 83.25,324.88 79.65,324.88" fill="#C42232"/>
<polygon points="82.75,306.90 84.55,310.04 80.95,310.04" fill="#C42232"/>
<polygon points="84.20,296.70 86.00,299.83 82.40,299.83" fill="#C42232"/>
<polygon points="85.81,291.13 87.61,294.26 84.01,294.26" fill="#C42232"/>
<polygon points="87.75,288.34 89.55,291.48 85.95,291.48" fill="#C42232"/>
<polygon points="89.85,287.88 91.65,291.01 88.05,291.01" fill="#C42232"/>
<polygon points="92.73,289.27 94.53,292.40 90.93,292.40" fill="#C42232"/>
<polygon points="96.63,291.13 98.43,294.26 94.83,294.26" fill="#C42232"/>
<polygon points="102.12,292.98 103.92,296.12 100.33,296.12" fill="#C42232"/>
<polygon points="108.84,293.91 110.64,297.04 107.04,297.04" fill="#C42232"/>
<polygon points="117.14,296.42 118.94,299.55 115.34,299.55" fill="#C42232"/>
<polygon points="127.97,300.41 129.77,303.54 126.17,303.54" fill="#C42232"/>
<polygon points="141.21,304.12 143.01,307.25 139.41,307.25" fill="#C42232"/>
<polygon points="154.77,309.41 156.57,312.54 152.97,312.54" fill="#C42232"/>
<polygon points="168.34,316.46 170.14,319.60 166.54,319.60" fill="#C42232"/>
<polygon points="181.58,322.40 183.38,325.53 179.78,325.53" fill="#C42232"/>
<polygon points="195.15,327.88 196.95,331.01 193.35,331.01" fill="#C42232"/>
<polygon points="209.04,333.54 210.84,336.67 207.24,336.67" fill="#C42232"/>
<polygon points="222.28,340.13 224.08,343.26 220.48,343.26" fill="#C42232"/>
<polygon points="240.69,346.07 242.49,349.20 238.89,349.20" fill="#C42232"/>
<line x1="69.30" y1="269.40" x2="69.30" y2="356.30" stroke="#404040" stroke-width="1.3"/>
<line x1="69.30" y1="356.30" x2="248.30" y2="356.30" stroke="#404040" stroke-width="1.3"/>
<line x1="94.80" y1="322.90" x2="106.90" y2="322.90" stroke="#161630" stroke-width="1.9"/>
<circle cx="100.85" cy="329.90" r="2.3" fill="#E4B048"/>
<rect x="99.20" y="335.25" width="3.3" height="3.3" fill="#1414B4"/>
<polygon points="100.85,342.02 102.65,345.15 99.05,345.15" fill="#B82838"/>
<text x="108.80" y="325.50" font-size="7.6" font-weight="bold" letter-spacing="-0.3" fill="#111" stroke="#111" stroke-width="0.2">DNS</text>
<text x="108.80" y="332.50" font-size="7.6" font-weight="bold" letter-spacing="-0.3" fill="#111" stroke="#111" stroke-width="0.2">Case1</text>
<text x="108.80" y="339.50" font-size="7.6" font-weight="bold" letter-spacing="-0.3" fill="#111" stroke="#111" stroke-width="0.2">Case2</text>
<text x="108.80" y="346.50" font-size="7.6" font-weight="bold" letter-spacing="-0.3" fill="#111" stroke="#111" stroke-width="0.2">Case3</text>
<text x="-0.20" y="271.30" font-size="16.5" font-weight="bold" fill="#111" stroke="#111" stroke-width="0.35">(</text>
<text x="4.40" y="271.30" font-size="16.5" font-weight="bold" fill="#111" stroke="#111" stroke-width="0.35">e</text>
<text x="12.90" y="271.30" font-size="16.5" font-weight="bold" fill="#111" stroke="#111" stroke-width="0.35">)</text>
<line x1="16.50" y1="302.60" x2="41.50" y2="302.60" stroke="#111" stroke-width="1.3"/>
<text x="12.4" y="316.3" font-size="16" font-style="italic" letter-spacing="0.45" fill="#111" stroke="#111" stroke-width="0.7">-u&#8242;v&#8242;</text>
<text x="40.90" y="302.80" font-size="10.5" fill="#111" stroke="#111" stroke-width="0.3">+</text>
<text x="151.70" y="383.60" font-size="17" font-style="italic" fill="#111" stroke="#111" stroke-width="0.35">y</text>
<text x="159.15" y="377.70" font-size="11" fill="#111" stroke="#111" stroke-width="0.25">+</text>
<line x1="347.30" y1="355.90" x2="347.30" y2="359.20" stroke="#404040" stroke-width="1.0"/>
<text x="347.30" y="369.00" font-size="11" text-anchor="middle" fill="#111" stroke="#111" stroke-width="0.45">0</text>
<line x1="379.75" y1="355.90" x2="379.75" y2="359.20" stroke="#404040" stroke-width="1.0"/>
<text x="379.75" y="369.00" font-size="11" text-anchor="middle" fill="#111" stroke="#111" stroke-width="0.45">100</text>
<line x1="412.20" y1="355.90" x2="412.20" y2="359.20" stroke="#404040" stroke-width="1.0"/>
<text x="412.20" y="369.00" font-size="11" text-anchor="middle" fill="#111" stroke="#111" stroke-width="0.45">200</text>
<line x1="444.65" y1="355.90" x2="444.65" y2="359.20" stroke="#404040" stroke-width="1.0"/>
<text x="444.65" y="369.00" font-size="11" text-anchor="middle" fill="#111" stroke="#111" stroke-width="0.45">300</text>
<line x1="477.10" y1="355.90" x2="477.10" y2="359.20" stroke="#404040" stroke-width="1.0"/>
<text x="477.10" y="369.00" font-size="11" text-anchor="middle" fill="#111" stroke="#111" stroke-width="0.45">400</text>
<line x1="509.55" y1="355.90" x2="509.55" y2="359.20" stroke="#404040" stroke-width="1.0"/>
<text x="509.55" y="369.00" font-size="11" text-anchor="middle" fill="#111" stroke="#111" stroke-width="0.45">500</text>
<text x="334.50" y="272.80" font-size="11" text-anchor="end" fill="#111" stroke="#111" stroke-width="0.45">0.20</text>
<line x1="335.70" y1="355.60" x2="339.50" y2="355.60" stroke="#404040" stroke-width="1.0"/>
<text x="334.50" y="359.50" font-size="11" text-anchor="end" fill="#111" stroke="#111" stroke-width="0.45">0</text>
<line x1="335.70" y1="338.40" x2="339.50" y2="338.40" stroke="#404040" stroke-width="1.0"/>
<text x="334.50" y="342.30" font-size="11" text-anchor="end" fill="#111" stroke="#111" stroke-width="0.45">0.04</text>
<line x1="335.70" y1="321.20" x2="339.50" y2="321.20" stroke="#404040" stroke-width="1.0"/>
<text x="334.50" y="325.10" font-size="11" text-anchor="end" fill="#111" stroke="#111" stroke-width="0.45">0.08</text>
<line x1="335.70" y1="304.00" x2="339.50" y2="304.00" stroke="#404040" stroke-width="1.0"/>
<text x="334.50" y="307.90" font-size="11" text-anchor="end" fill="#111" stroke="#111" stroke-width="0.45">0.12</text>
<line x1="335.70" y1="286.60" x2="339.50" y2="286.60" stroke="#404040" stroke-width="1.0"/>
<text x="334.50" y="290.50" font-size="11" text-anchor="end" fill="#111" stroke="#111" stroke-width="0.45">0.16</text>
<polyline points="347.40,269.60 347.72,271.64 348.05,275.61 348.38,282.52 348.71,288.73 349.04,293.27 349.36,295.35 349.69,296.11 350.02,296.24 350.35,296.02 350.67,295.65 351.00,294.88 351.33,294.15 351.66,293.68 351.98,293.32 352.31,293.28 352.64,293.51 352.97,293.89 353.29,294.33 353.62,294.96 353.95,295.76 354.28,296.66 354.60,297.59 354.93,298.46 355.26,299.23 355.59,299.97 355.91,300.70 356.24,301.42 356.57,302.13 356.90,302.84 357.22,303.55 357.55,304.26 357.88,304.97 358.21,305.68 358.53,306.39 358.86,307.09 359.19,307.80 359.52,308.49 359.84,309.18 360.17,309.85 360.50,310.52 360.83,311.17 361.15,311.80 361.48,312.42 361.81,313.03 362.14,313.63 362.46,314.24 362.79,314.85 363.12,315.45 363.45,316.05 363.78,316.65 364.10,317.24 364.43,317.83 364.76,318.40 365.09,318.97 365.41,319.52 365.74,320.07 366.07,320.59 366.40,321.11 366.72,321.61 367.05,322.09 367.38,322.55 367.71,322.99 368.03,323.41 368.36,323.81 368.69,324.18 369.02,324.53 369.34,324.88 369.67,325.23 370.00,325.56 370.33,325.90 370.65,326.22 370.98,326.54 371.31,326.85 371.64,327.16 371.96,327.46 372.29,327.76 372.62,328.05 372.95,328.33 373.27,328.61 373.60,328.89 373.93,329.16 374.26,329.42 374.58,329.68 374.91,329.93 375.24,330.18 375.57,330.42 375.89,330.66 376.22,330.90 376.55,331.13 376.88,331.35 377.20,331.57 377.53,331.79 377.86,332.00 378.19,332.21 378.52,332.41 378.84,332.61 379.17,332.80 379.50,332.99 379.83,333.18 380.15,333.36 380.48,333.54 380.81,333.71 381.14,333.89 381.46,334.06 381.79,334.23 382.12,334.40 382.45,334.57 382.77,334.73 383.10,334.90 383.43,335.06 383.76,335.22 384.08,335.38 384.41,335.54 384.74,335.70 385.07,335.86 385.39,336.01 385.72,336.16 386.05,336.31 386.38,336.46 386.70,336.61 387.03,336.75 387.36,336.89 387.69,337.04 388.01,337.17 388.34,337.31 388.67,337.45 389.00,337.58 389.32,337.71 389.65,337.84 389.98,337.96 390.31,338.09 390.63,338.21 390.96,338.33 391.29,338.45 391.62,338.56 391.95,338.67 392.27,338.78 392.60,338.89 392.93,338.99 393.26,339.10 393.58,339.19 393.91,339.29 394.24,339.38 394.57,339.48 394.89,339.56 395.22,339.65 395.55,339.73 395.88,339.81 396.20,339.89 396.53,339.96 396.86,340.03 397.19,340.10 397.51,340.17 397.84,340.23 398.17,340.30 398.50,340.36 398.82,340.42 399.15,340.48 399.48,340.54 399.81,340.60 400.13,340.66 400.46,340.72 400.79,340.78 401.12,340.84 401.44,340.90 401.77,340.95 402.10,341.01 402.43,341.06 402.75,341.12 403.08,341.17 403.41,341.22 403.74,341.27 404.06,341.33 404.39,341.38 404.72,341.43 405.05,341.48 405.37,341.53 405.70,341.58 406.03,341.62 406.36,341.67 406.69,341.72 407.01,341.77 407.34,341.81 407.67,341.86 408.00,341.90 408.32,341.95 408.65,341.99 408.98,342.03 409.31,342.08 409.63,342.12 409.96,342.16 410.29,342.20 410.62,342.24 410.94,342.28 411.27,342.32 411.60,342.36 411.93,342.40 412.25,342.44 412.58,342.48 412.91,342.52 413.24,342.56 413.56,342.59 413.89,342.63 414.22,342.67 414.55,342.70 414.87,342.74 415.20,342.78 415.53,342.81 415.86,342.85 416.18,342.88 416.51,342.91 416.84,342.95 417.17,342.98 417.49,343.02 417.82,343.05 418.15,343.08 418.48,343.11 418.80,343.15 419.13,343.18 419.46,343.21 419.79,343.24 420.11,343.27 420.44,343.30 420.77,343.34 421.10,343.37 421.43,343.40 421.75,343.43 422.08,343.46 422.41,343.49 422.74,343.52 423.06,343.55 423.39,343.58 423.72,343.61 424.05,343.64 424.37,343.66 424.70,343.69 425.03,343.72 425.36,343.75 425.68,343.78 426.01,343.81 426.34,343.84 426.67,343.87 426.99,343.89 427.32,343.92 427.65,343.95 427.98,343.98 428.30,344.01 428.63,344.04 428.96,344.06 429.29,344.09 429.61,344.12 429.94,344.15 430.27,344.17 430.60,344.20 430.92,344.23 431.25,344.25 431.58,344.28 431.91,344.30 432.23,344.33 432.56,344.36 432.89,344.38 433.22,344.41 433.54,344.43 433.87,344.46 434.20,344.48 434.53,344.51 434.85,344.53 435.18,344.55 435.51,344.58 435.84,344.60 436.17,344.63 436.49,344.65 436.82,344.67 437.15,344.69 437.48,344.72 437.80,344.74 438.13,344.76 438.46,344.79 438.79,344.81 439.11,344.83 439.44,344.85 439.77,344.87 440.10,344.90 440.42,344.92 440.75,344.94 441.08,344.96 441.41,344.98 441.73,345.00 442.06,345.03 442.39,345.05 442.72,345.07 443.04,345.09 443.37,345.11 443.70,345.13 444.03,345.15 444.35,345.17 444.68,345.19 445.01,345.21 445.34,345.23 445.66,345.25 445.99,345.27 446.32,345.29 446.65,345.31 446.97,345.33 447.30,345.35 447.63,345.37 447.96,345.39 448.28,345.41 448.61,345.43 448.94,345.45 449.27,345.47 449.59,345.49 449.92,345.51 450.25,345.53 450.58,345.54 450.91,345.56 451.23,345.58 451.56,345.60 451.89,345.62 452.22,345.64 452.54,345.66 452.87,345.68 453.20,345.70 453.53,345.72 453.85,345.73 454.18,345.75 454.51,345.77 454.84,345.79 455.16,345.81 455.49,345.83 455.82,345.85 456.15,345.87 456.47,345.88 456.80,345.90 457.13,345.92 457.46,345.94 457.78,345.96 458.11,345.98 458.44,346.00 458.77,346.02 459.09,346.04 459.42,346.06 459.75,346.07 460.08,346.09 460.40,346.11 460.73,346.13 461.06,346.15 461.39,346.17 461.71,346.19 462.04,346.21 462.37,346.23 462.70,346.24 463.02,346.26 463.35,346.28 463.68,346.30 464.01,346.32 464.33,346.33 464.66,346.35 464.99,346.37 465.32,346.38 465.65,346.40 465.97,346.42 466.30,346.44 466.63,346.45 466.96,346.47 467.28,346.48 467.61,346.50 467.94,346.52 468.27,346.53 468.59,346.55 468.92,346.57 469.25,346.58 469.58,346.60 469.90,346.61 470.23,346.63 470.56,346.64 470.89,346.66 471.21,346.67 471.54,346.69 471.87,346.71 472.20,346.72 472.52,346.74 472.85,346.75 473.18,346.77 473.51,346.78 473.83,346.80 474.16,346.81 474.49,346.83 474.82,346.84 475.14,346.86 475.47,346.87 475.80,346.89 476.13,346.90 476.45,346.92 476.78,346.94 477.11,346.95 477.44,346.97 477.76,346.98 478.09,347.00 478.42,347.01 478.75,347.03 479.08,347.04 479.40,347.06 479.73,347.08 480.06,347.09 480.39,347.11 480.71,347.12 481.04,347.14 481.37,347.16 481.70,347.17 482.02,347.19 482.35,347.21 482.68,347.22 483.01,347.24 483.33,347.26 483.66,347.27 483.99,347.29 484.32,347.31 484.64,347.33 484.97,347.34 485.30,347.36 485.63,347.38 485.95,347.40 486.28,347.42 486.61,347.43 486.94,347.45 487.26,347.47 487.59,347.49 487.92,347.51 488.25,347.53 488.57,347.55 488.90,347.57 489.23,347.59 489.56,347.61 489.88,347.63 490.21,347.65 490.54,347.67 490.87,347.69 491.19,347.71 491.52,347.74 491.85,347.76 492.18,347.78 492.50,347.80 492.83,347.83 493.16,347.85 493.49,347.87 493.82,347.90 494.14,347.92 494.47,347.94 494.80,347.97 495.13,347.99 495.45,348.02 495.78,348.05 496.11,348.07 496.44,348.10 496.76,348.13 497.09,348.16 497.42,348.18 497.75,348.21 498.07,348.24 498.40,348.27 498.73,348.30 499.06,348.33 499.38,348.36 499.71,348.39 500.04,348.42 500.37,348.46 500.69,348.49 501.02,348.52 501.35,348.55 501.68,348.58 502.00,348.62 502.33,348.65 502.66,348.68 502.99,348.72 503.31,348.75 503.64,348.79 503.97,348.82 504.30,348.85 504.62,348.89 504.95,348.92 505.28,348.96 505.61,348.99 505.93,349.03 506.26,349.07 506.59,349.10 506.92,349.14 507.24,349.17 507.57,349.21 507.90,349.25 508.23,349.28 508.56,349.32 508.88,349.36 509.21,349.39 509.54,349.43 509.87,349.47 510.19,349.51 510.52,349.54 510.85,349.58" fill="none" stroke="#1a1a1a" stroke-width="1.45" stroke-linejoin="round" stroke-linecap="round"/>
<circle cx="347.43" cy="272.18" r="2.4" fill="#EBB046"/>
<circle cx="348.76" cy="287.66" r="2.4" fill="#EBB046"/>
<circle cx="352.17" cy="298.41" r="2.4" fill="#EBB046"/>
<circle cx="353.63" cy="299.70" r="2.4" fill="#EBB046"/>
<circle cx="355.25" cy="302.71" r="2.4" fill="#EBB046"/>
<circle cx="357.20" cy="306.15" r="2.4" fill="#EBB046"/>
<circle cx="359.31" cy="312.60" r="2.4" fill="#EBB046"/>
<circle cx="362.19" cy="318.62" r="2.4" fill="#EBB046"/>
<circle cx="366.12" cy="324.64" r="2.4" fill="#EBB046"/>
<circle cx="371.64" cy="329.80" r="2.4" fill="#EBB046"/>
<circle cx="378.39" cy="334.96" r="2.4" fill="#EBB046"/>
<circle cx="386.73" cy="338.40" r="2.4" fill="#EBB046"/>
<circle cx="397.60" cy="341.41" r="2.4" fill="#EBB046"/>
<circle cx="410.90" cy="343.56" r="2.4" fill="#EBB046"/>
<circle cx="424.53" cy="344.85" r="2.4" fill="#EBB046"/>
<circle cx="438.16" cy="345.50" r="2.4" fill="#EBB046"/>
<circle cx="451.46" cy="346.23" r="2.4" fill="#EBB046"/>
<circle cx="465.09" cy="346.91" r="2.4" fill="#EBB046"/>
<circle cx="479.05" cy="348.29" r="2.4" fill="#EBB046"/>
<circle cx="492.35" cy="349.37" r="2.4" fill="#EBB046"/>
<circle cx="510.85" cy="350.87" r="2.4" fill="#EBB046"/>
<rect x="345.58" y="274.63" width="3.7" height="3.7" fill="#1C1AB0"/>
<rect x="346.91" y="289.68" width="3.7" height="3.7" fill="#1C1AB0"/>
<rect x="350.32" y="297.42" width="3.7" height="3.7" fill="#1C1AB0"/>
<rect x="351.78" y="298.71" width="3.7" height="3.7" fill="#1C1AB0"/>
<rect x="353.40" y="302.15" width="3.7" height="3.7" fill="#1C1AB0"/>
<rect x="355.35" y="306.88" width="3.7" height="3.7" fill="#1C1AB0"/>
<rect x="357.46" y="312.04" width="3.7" height="3.7" fill="#1C1AB0"/>
<rect x="360.34" y="317.20" width="3.7" height="3.7" fill="#1C1AB0"/>
<rect x="364.27" y="323.22" width="3.7" height="3.7" fill="#1C1AB0"/>
<rect x="369.79" y="327.95" width="3.7" height="3.7" fill="#1C1AB0"/>
<rect x="376.54" y="333.54" width="3.7" height="3.7" fill="#1C1AB0"/>
<rect x="384.88" y="336.98" width="3.7" height="3.7" fill="#1C1AB0"/>
<rect x="395.75" y="339.99" width="3.7" height="3.7" fill="#1C1AB0"/>
<rect x="409.05" y="342.14" width="3.7" height="3.7" fill="#1C1AB0"/>
<rect x="422.68" y="343.43" width="3.7" height="3.7" fill="#1C1AB0"/>
<rect x="436.31" y="343.95" width="3.7" height="3.7" fill="#1C1AB0"/>
<rect x="449.61" y="344.63" width="3.7" height="3.7" fill="#1C1AB0"/>
<rect x="463.24" y="345.28" width="3.7" height="3.7" fill="#1C1AB0"/>
<rect x="477.20" y="346.65" width="3.7" height="3.7" fill="#1C1AB0"/>
<rect x="490.50" y="347.73" width="3.7" height="3.7" fill="#1C1AB0"/>
<rect x="509.00" y="349.15" width="3.7" height="3.7" fill="#1C1AB0"/>
<polygon points="347.43,303.41 349.23,306.54 345.63,306.54" fill="#C42232"/>
<polygon points="348.76,308.14 350.56,311.27 346.96,311.27" fill="#C42232"/>
<polygon points="352.17,312.01 353.97,315.14 350.37,315.14" fill="#C42232"/>
<polygon points="353.63,311.58 355.43,314.71 351.83,314.71" fill="#C42232"/>
<polygon points="355.25,314.16 357.05,317.29 353.45,317.29" fill="#C42232"/>
<polygon points="357.20,317.60 359.00,320.73 355.40,320.73" fill="#C42232"/>
<polygon points="359.31,321.04 361.11,324.17 357.51,324.17" fill="#C42232"/>
<polygon points="362.19,325.34 363.99,328.47 360.39,328.47" fill="#C42232"/>
<polygon points="366.12,329.21 367.92,332.34 364.32,332.34" fill="#C42232"/>
<polygon points="371.64,332.65 373.44,335.78 369.84,335.78" fill="#C42232"/>
<polygon points="378.39,337.38 380.19,340.51 376.59,340.51" fill="#C42232"/>
<polygon points="386.73,339.96 388.53,343.09 384.93,343.09" fill="#C42232"/>
<polygon points="397.60,342.97 399.40,346.10 395.80,346.10" fill="#C42232"/>
<polygon points="410.90,344.26 412.70,347.39 409.10,347.39" fill="#C42232"/>
<polygon points="424.53,344.26 426.33,347.39 422.73,347.39" fill="#C42232"/>
<polygon points="438.16,344.69 439.96,347.82 436.36,347.82" fill="#C42232"/>
<polygon points="451.46,345.34 453.26,348.47 449.66,348.47" fill="#C42232"/>
<polygon points="465.09,345.98 466.89,349.11 463.29,349.11" fill="#C42232"/>
<polygon points="479.05,347.27 480.85,350.40 477.25,350.40" fill="#C42232"/>
<polygon points="492.35,348.35 494.15,351.48 490.55,351.48" fill="#C42232"/>
<polygon points="510.85,349.85 512.65,352.98 509.05,352.98" fill="#C42232"/>
<line x1="335.90" y1="268.90" x2="520.00" y2="268.90" stroke="#555" stroke-width="1.2"/>
<line x1="339.50" y1="268.90" x2="339.50" y2="355.90" stroke="#404040" stroke-width="1.3"/>
<line x1="339.50" y1="355.90" x2="520.00" y2="355.90" stroke="#404040" stroke-width="1.3"/>
<line x1="462.30" y1="275.20" x2="474.80" y2="275.20" stroke="#161630" stroke-width="1.9"/>
<circle cx="468.55" cy="282.25" r="2.3" fill="#E4B048"/>
<rect x="466.90" y="287.65" width="3.3" height="3.3" fill="#1414B4"/>
<polygon points="468.55,294.47 470.35,297.60 466.75,297.60" fill="#B82838"/>
<text x="476.70" y="277.80" font-size="7.6" font-weight="bold" letter-spacing="-0.3" fill="#111" stroke="#111" stroke-width="0.2">DNS</text>
<text x="476.70" y="284.85" font-size="7.6" font-weight="bold" letter-spacing="-0.3" fill="#111" stroke="#111" stroke-width="0.2">Case1</text>
<text x="476.70" y="291.90" font-size="7.6" font-weight="bold" letter-spacing="-0.3" fill="#111" stroke="#111" stroke-width="0.2">Case2</text>
<text x="476.70" y="298.95" font-size="7.6" font-weight="bold" letter-spacing="-0.3" fill="#111" stroke="#111" stroke-width="0.2">Case3</text>
<text x="268.60" y="271.30" font-size="16.5" fill="#111" stroke="#111" stroke-width="0.35">(</text>
<text x="273.60" y="271.30" font-size="16.5" fill="#111" stroke="#111" stroke-width="0.35">f</text>
<text x="282.40" y="271.30" font-size="16.5" fill="#111" stroke="#111" stroke-width="0.35">)</text>
<text x="275.40" y="313.20" font-size="16" font-style="italic" fill="#111" stroke="#111" stroke-width="0.6">&#969;</text>
<text x="286.40" y="316.20" font-size="12" font-style="italic" fill="#111" stroke="#111" stroke-width="0.35">x,rms</text>
<text x="283.80" y="305.60" font-size="10.5" fill="#111" stroke="#111" stroke-width="0.3">+</text>
<text x="422.20" y="382.80" font-size="17" font-style="italic" fill="#111" stroke="#111" stroke-width="0.35">y</text>
<text x="429.15" y="377.70" font-size="11" fill="#111" stroke="#111" stroke-width="0.25">+</text>
</svg>
</body></html>
